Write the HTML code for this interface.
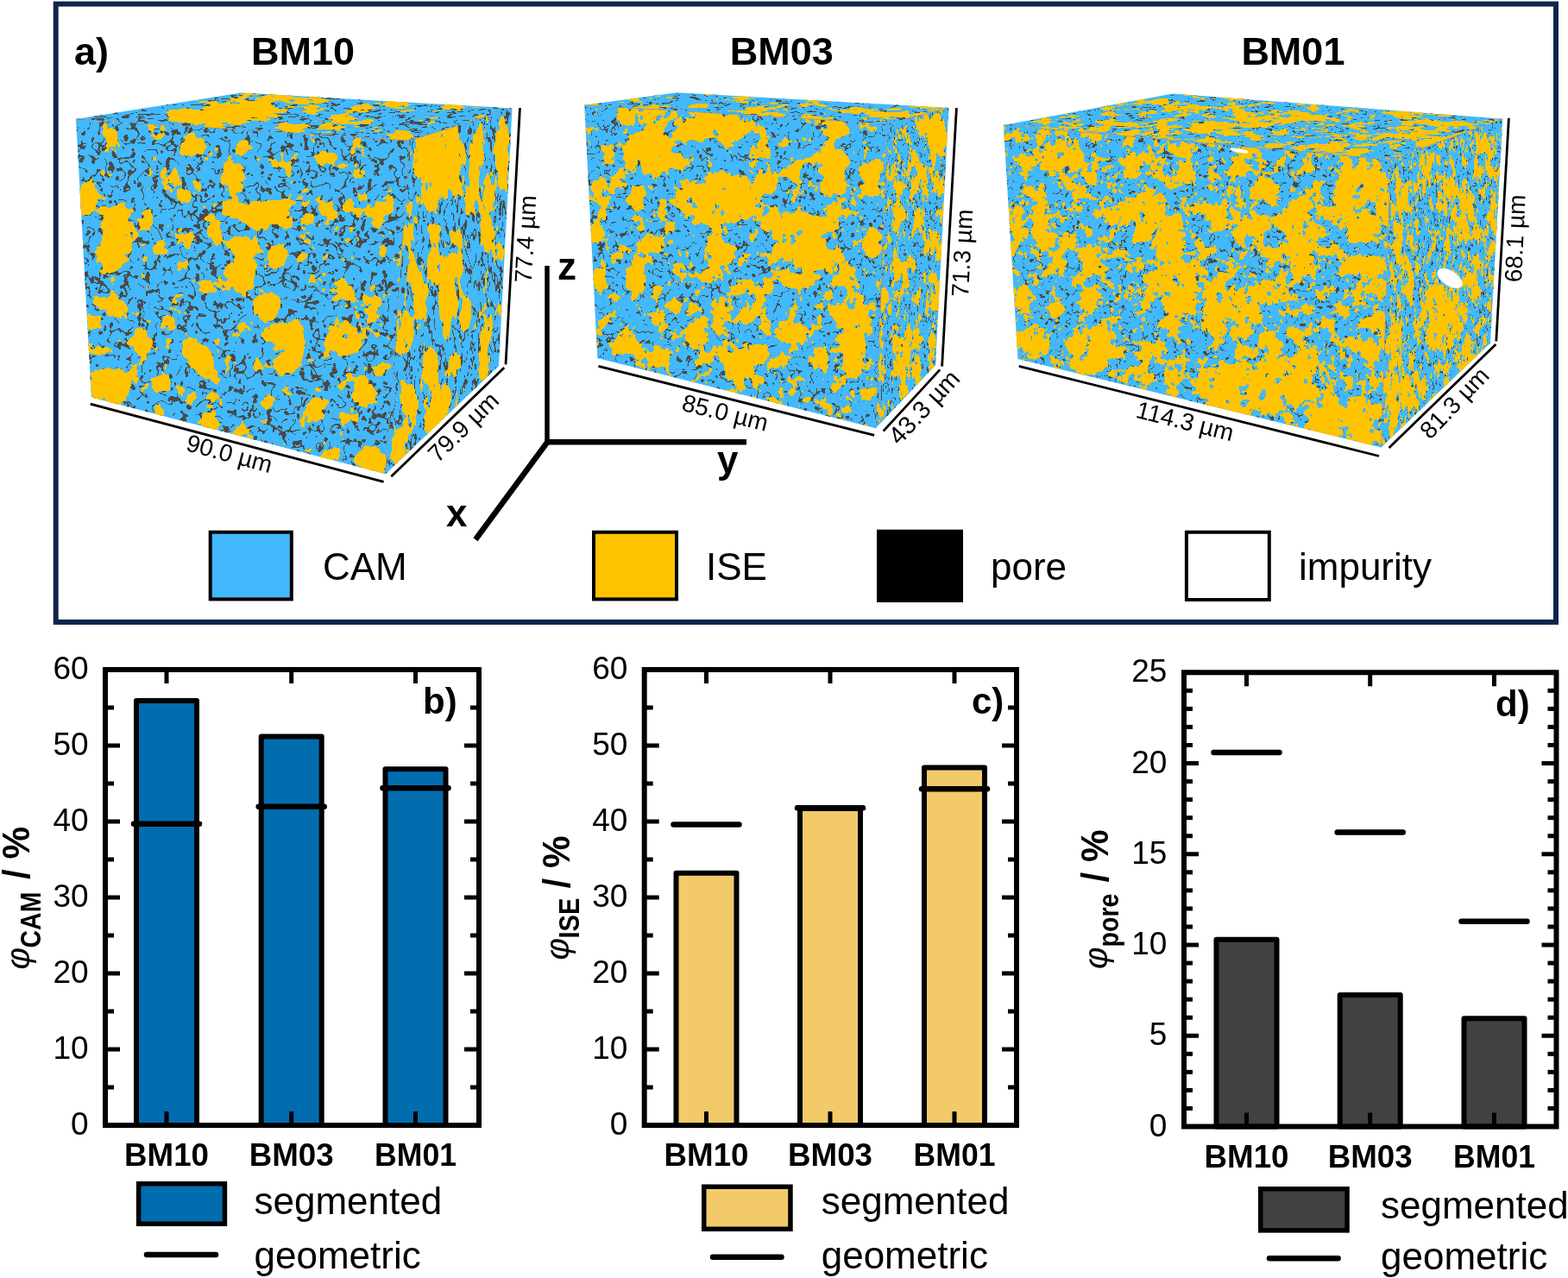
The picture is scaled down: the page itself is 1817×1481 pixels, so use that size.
<!DOCTYPE html><html><head><meta charset="utf-8"><style>html,body{margin:0;padding:0;background:#fff;}svg{display:block;}text{font-family:'Liberation Sans', sans-serif;fill:#000;}</style></head><body>
<svg width="1817" height="1481" viewBox="0 0 1817 1481">
<defs><clipPath id="cBM10front"><polygon points="88.0,138.0 475.0,163.0 446.8,549.2 106.0,460.5"/></clipPath><filter id="oBM10front" filterUnits="userSpaceOnUse" x="84" y="134" width="395" height="419" color-interpolation-filters="sRGB"><feTurbulence type="fractalNoise" baseFrequency="0.0350 0.0350" numOctaves="3" seed="5" result="n0"/><feColorMatrix in="n0" type="matrix" values="1 0 0 0 0 0 0 0 0 0 0 0 0 0 0 0 0 0 0 1" result="n"/><feTurbulence type="fractalNoise" baseFrequency="0.1120 0.1120" numOctaves="2" seed="105" result="m0"/><feColorMatrix in="m0" type="matrix" values="1 0 0 0 0 0 0 0 0 0 0 0 0 0 0 0 0 0 0 1" result="m"/><feGaussianBlur in="SourceGraphic" stdDeviation="3" result="b0"/><feComponentTransfer in="b0" result="b"><feFuncA type="linear" slope="0" intercept="1"/></feComponentTransfer><feComposite in="n" in2="b" operator="arithmetic" k1="0" k2="1.6" k3="1" k4="-0.8" result="s1"/><feComposite in="m" in2="s1" operator="arithmetic" k1="0" k2="1.3" k3="1" k4="-0.65" result="s"/><feColorMatrix in="s" type="matrix" values="0 0 0 0 1 0 0 0 0 0.765 0 0 0 0 0 1 0 0 0 0"/><feComponentTransfer><feFuncA type="discrete" tableValues="0 1"/></feComponentTransfer></filter><filter id="gBM10front" filterUnits="userSpaceOnUse" x="84" y="134" width="395" height="419" color-interpolation-filters="sRGB"><feTurbulence type="fractalNoise" baseFrequency="0.0600 0.0600" numOctaves="2" seed="55"/><feColorMatrix type="matrix" values="0 0 0 0 0.29 0 0 0 0 0.29 0 0 0 0 0.29 1 0 0 0 0"/><feComponentTransfer result="g1"><feFuncA type="discrete" tableValues="0 0 0 0 0 0 0 0 0 0 0 0 0 0 0 0 0 0 0 0 0 0 0 0 0 0 0 0 0 0 0 0 0 0 0 0 0 0 0 0 0 0 0 0 0 0 0 0 0 0 0 0 0 0 0 0 0 0 0 0 0 0 0 0 0 0 0 0 0 0 0 0 0 0 0 0 0 0 0 0 0 0 0 0 0 0 0 0 0 0 0 0 0 0 0 1 1 1 1 1 1 1 1 1 1 0 0 0 0 0 0 0 0 0 0 0 0 0 0 0 0 0 0 0 0 0 0 0 0 0 0 0 0 0 0 0 0 0 0 0 0 0 0 0 0 0 0 0 0 0 0 0 0 0 0 0 0 0 0 0 0 0 0 0 0 0 0 0 0 0 0 0 0 0 0 0 0 0 0 0 0 0 0 0 0 0 0 0 0 0 0 0 0 0 0 0 0 0 0 0"/></feComponentTransfer><feTurbulence type="fractalNoise" baseFrequency="0.0780 0.0780" numOctaves="2" seed="65"/><feColorMatrix type="matrix" values="0 0 0 0 0 0 0 0 0 0 0 0 0 0 0 1 0 0 0 0"/><feComponentTransfer result="mk"><feFuncA type="discrete" tableValues="0 0 0 0 0 0 0 0 0 0 0 0 0 0 0 0 0 0 0 0 0 0 0 0 0 0 0 0 0 0 0 0 0 0 0 0 0 0 0 0 0 0 0 0 0 0 0 0 0 0 0 0 0 0 0 0 0 0 0 0 0 0 0 0 0 0 0 0 0 0 0 0 0 0 0 0 0 0 0 0 0 0 0 0 0 0 0 0 0 0 1 1 1 1 1 1 1 1 1 1 1 1 1 1 1 1 1 1 1 1 1 1 1 1 1 1 1 1 1 1 1 1 1 1 1 1 1 1 1 1 1 1 1 1 1 1 1 1 1 1 1 1 1 1 1 1 1 1 1 1 1 1 1 1 1 1 1 1 1 1 1 1 1 1 1 1 1 1 1 1 1 1 1 1 1 1 1 1 1 1 1 1 1 1 1 1 1 1 1 1 1 1 1 1 1 1 1 1 1 1"/></feComponentTransfer><feComposite in="g1" in2="mk" operator="in" result="g1m"/><feTurbulence type="fractalNoise" baseFrequency="0.1200 0.1200" numOctaves="2" seed="75"/><feColorMatrix type="matrix" values="0 0 0 0 0.29 0 0 0 0 0.29 0 0 0 0 0.29 1 0 0 0 0"/><feComponentTransfer result="g2"><feFuncA type="discrete" tableValues="1 1 1 1 1 1 1 1 1 1 1 1 1 1 1 1 1 1 1 1 1 1 1 1 1 1 1 1 1 1 1 1 1 1 1 1 1 1 1 1 1 1 1 1 1 1 1 1 1 1 1 1 1 1 1 1 1 1 1 1 1 1 1 1 1 1 0 0 0 0 0 0 0 0 0 0 0 0 0 0 0 0 0 0 0 0 0 0 0 0 0 0 0 0 0 0 0 0 0 0 0 0 0 0 0 0 0 0 0 0 0 0 0 0 0 0 0 0 0 0 0 0 0 0 0 0 0 0 0 0 0 0 0 0 0 0 0 0 0 0 0 0 0 0 0 0 0 0 0 0 0 0 0 0 0 0 0 0 0 0 0 0 0 0 0 0 0 0 0 0 0 0 0 0 0 0 0 0 0 0 0 0 0 0 0 0 0 0 0 0 0 0 0 0 0 0 0 0 0 0"/></feComponentTransfer><feMerge><feMergeNode in="g1m"/><feMergeNode in="g2"/></feMerge></filter><clipPath id="cBM10top"><polygon points="88.0,138.0 279.7,107.4 593.5,125.5 475.0,163.0"/></clipPath><filter id="oBM10top" filterUnits="userSpaceOnUse" x="84" y="103" width="514" height="64" color-interpolation-filters="sRGB"><feTurbulence type="fractalNoise" baseFrequency="0.0210 0.0910" numOctaves="3" seed="6" result="n0"/><feColorMatrix in="n0" type="matrix" values="1 0 0 0 0 0 0 0 0 0 0 0 0 0 0 0 0 0 0 1" result="n"/><feTurbulence type="fractalNoise" baseFrequency="0.0672 0.2912" numOctaves="2" seed="106" result="m0"/><feColorMatrix in="m0" type="matrix" values="1 0 0 0 0 0 0 0 0 0 0 0 0 0 0 0 0 0 0 1" result="m"/><feGaussianBlur in="SourceGraphic" stdDeviation="3" result="b0"/><feComponentTransfer in="b0" result="b"><feFuncA type="linear" slope="0" intercept="1"/></feComponentTransfer><feComposite in="n" in2="b" operator="arithmetic" k1="0" k2="1.6" k3="1" k4="-0.8" result="s1"/><feComposite in="m" in2="s1" operator="arithmetic" k1="0" k2="1.3" k3="1" k4="-0.65" result="s"/><feColorMatrix in="s" type="matrix" values="0 0 0 0 1 0 0 0 0 0.765 0 0 0 0 0 1 0 0 0 0"/><feComponentTransfer><feFuncA type="discrete" tableValues="0 1"/></feComponentTransfer></filter><filter id="gBM10top" filterUnits="userSpaceOnUse" x="84" y="103" width="514" height="64" color-interpolation-filters="sRGB"><feTurbulence type="fractalNoise" baseFrequency="0.0360 0.1560" numOctaves="2" seed="56"/><feColorMatrix type="matrix" values="0 0 0 0 0.29 0 0 0 0 0.29 0 0 0 0 0.29 1 0 0 0 0"/><feComponentTransfer result="g1"><feFuncA type="discrete" tableValues="0 0 0 0 0 0 0 0 0 0 0 0 0 0 0 0 0 0 0 0 0 0 0 0 0 0 0 0 0 0 0 0 0 0 0 0 0 0 0 0 0 0 0 0 0 0 0 0 0 0 0 0 0 0 0 0 0 0 0 0 0 0 0 0 0 0 0 0 0 0 0 0 0 0 0 0 0 0 0 0 0 0 0 0 0 0 0 0 0 0 0 0 0 0 0 1 1 1 1 1 1 1 1 1 1 0 0 0 0 0 0 0 0 0 0 0 0 0 0 0 0 0 0 0 0 0 0 0 0 0 0 0 0 0 0 0 0 0 0 0 0 0 0 0 0 0 0 0 0 0 0 0 0 0 0 0 0 0 0 0 0 0 0 0 0 0 0 0 0 0 0 0 0 0 0 0 0 0 0 0 0 0 0 0 0 0 0 0 0 0 0 0 0 0 0 0 0 0 0 0"/></feComponentTransfer><feTurbulence type="fractalNoise" baseFrequency="0.0468 0.2028" numOctaves="2" seed="66"/><feColorMatrix type="matrix" values="0 0 0 0 0 0 0 0 0 0 0 0 0 0 0 1 0 0 0 0"/><feComponentTransfer result="mk"><feFuncA type="discrete" tableValues="0 0 0 0 0 0 0 0 0 0 0 0 0 0 0 0 0 0 0 0 0 0 0 0 0 0 0 0 0 0 0 0 0 0 0 0 0 0 0 0 0 0 0 0 0 0 0 0 0 0 0 0 0 0 0 0 0 0 0 0 0 0 0 0 0 0 0 0 0 0 0 0 0 0 0 0 0 0 0 0 0 0 0 0 0 0 0 0 0 0 1 1 1 1 1 1 1 1 1 1 1 1 1 1 1 1 1 1 1 1 1 1 1 1 1 1 1 1 1 1 1 1 1 1 1 1 1 1 1 1 1 1 1 1 1 1 1 1 1 1 1 1 1 1 1 1 1 1 1 1 1 1 1 1 1 1 1 1 1 1 1 1 1 1 1 1 1 1 1 1 1 1 1 1 1 1 1 1 1 1 1 1 1 1 1 1 1 1 1 1 1 1 1 1 1 1 1 1 1 1"/></feComponentTransfer><feComposite in="g1" in2="mk" operator="in" result="g1m"/><feTurbulence type="fractalNoise" baseFrequency="0.0720 0.3120" numOctaves="2" seed="76"/><feColorMatrix type="matrix" values="0 0 0 0 0.29 0 0 0 0 0.29 0 0 0 0 0.29 1 0 0 0 0"/><feComponentTransfer result="g2"><feFuncA type="discrete" tableValues="1 1 1 1 1 1 1 1 1 1 1 1 1 1 1 1 1 1 1 1 1 1 1 1 1 1 1 1 1 1 1 1 1 1 1 1 1 1 1 1 1 1 1 1 1 1 1 1 1 1 1 1 1 1 1 1 1 1 1 1 1 1 1 1 1 1 0 0 0 0 0 0 0 0 0 0 0 0 0 0 0 0 0 0 0 0 0 0 0 0 0 0 0 0 0 0 0 0 0 0 0 0 0 0 0 0 0 0 0 0 0 0 0 0 0 0 0 0 0 0 0 0 0 0 0 0 0 0 0 0 0 0 0 0 0 0 0 0 0 0 0 0 0 0 0 0 0 0 0 0 0 0 0 0 0 0 0 0 0 0 0 0 0 0 0 0 0 0 0 0 0 0 0 0 0 0 0 0 0 0 0 0 0 0 0 0 0 0 0 0 0 0 0 0 0 0 0 0 0 0"/></feComponentTransfer><feMerge><feMergeNode in="g1m"/><feMergeNode in="g2"/></feMerge></filter><clipPath id="cBM10right"><polygon points="475.0,163.0 593.5,125.5 578.0,424.0 446.8,549.2"/></clipPath><filter id="oBM10right" filterUnits="userSpaceOnUse" x="443" y="122" width="155" height="432" color-interpolation-filters="sRGB"><feTurbulence type="fractalNoise" baseFrequency="0.0700 0.0228" numOctaves="3" seed="7" result="n0"/><feColorMatrix in="n0" type="matrix" values="1 0 0 0 0 0 0 0 0 0 0 0 0 0 0 0 0 0 0 1" result="n"/><feTurbulence type="fractalNoise" baseFrequency="0.2240 0.0728" numOctaves="2" seed="107" result="m0"/><feColorMatrix in="m0" type="matrix" values="1 0 0 0 0 0 0 0 0 0 0 0 0 0 0 0 0 0 0 1" result="m"/><feGaussianBlur in="SourceGraphic" stdDeviation="3" result="b0"/><feComponentTransfer in="b0" result="b"><feFuncA type="linear" slope="0" intercept="1"/></feComponentTransfer><feComposite in="n" in2="b" operator="arithmetic" k1="0" k2="1.6" k3="1" k4="-0.8" result="s1"/><feComposite in="m" in2="s1" operator="arithmetic" k1="0" k2="1.3" k3="1" k4="-0.65" result="s"/><feColorMatrix in="s" type="matrix" values="0 0 0 0 1 0 0 0 0 0.765 0 0 0 0 0 1 0 0 0 0"/><feComponentTransfer><feFuncA type="discrete" tableValues="0 1"/></feComponentTransfer></filter><filter id="gBM10right" filterUnits="userSpaceOnUse" x="443" y="122" width="155" height="432" color-interpolation-filters="sRGB"><feTurbulence type="fractalNoise" baseFrequency="0.1200 0.0390" numOctaves="2" seed="57"/><feColorMatrix type="matrix" values="0 0 0 0 0.29 0 0 0 0 0.29 0 0 0 0 0.29 1 0 0 0 0"/><feComponentTransfer result="g1"><feFuncA type="discrete" tableValues="0 0 0 0 0 0 0 0 0 0 0 0 0 0 0 0 0 0 0 0 0 0 0 0 0 0 0 0 0 0 0 0 0 0 0 0 0 0 0 0 0 0 0 0 0 0 0 0 0 0 0 0 0 0 0 0 0 0 0 0 0 0 0 0 0 0 0 0 0 0 0 0 0 0 0 0 0 0 0 0 0 0 0 0 0 0 0 0 0 0 0 0 0 0 0 1 1 1 1 1 1 1 1 1 1 0 0 0 0 0 0 0 0 0 0 0 0 0 0 0 0 0 0 0 0 0 0 0 0 0 0 0 0 0 0 0 0 0 0 0 0 0 0 0 0 0 0 0 0 0 0 0 0 0 0 0 0 0 0 0 0 0 0 0 0 0 0 0 0 0 0 0 0 0 0 0 0 0 0 0 0 0 0 0 0 0 0 0 0 0 0 0 0 0 0 0 0 0 0 0"/></feComponentTransfer><feTurbulence type="fractalNoise" baseFrequency="0.1560 0.0507" numOctaves="2" seed="67"/><feColorMatrix type="matrix" values="0 0 0 0 0 0 0 0 0 0 0 0 0 0 0 1 0 0 0 0"/><feComponentTransfer result="mk"><feFuncA type="discrete" tableValues="0 0 0 0 0 0 0 0 0 0 0 0 0 0 0 0 0 0 0 0 0 0 0 0 0 0 0 0 0 0 0 0 0 0 0 0 0 0 0 0 0 0 0 0 0 0 0 0 0 0 0 0 0 0 0 0 0 0 0 0 0 0 0 0 0 0 0 0 0 0 0 0 0 0 0 0 0 0 0 0 0 0 0 0 0 0 0 0 0 0 1 1 1 1 1 1 1 1 1 1 1 1 1 1 1 1 1 1 1 1 1 1 1 1 1 1 1 1 1 1 1 1 1 1 1 1 1 1 1 1 1 1 1 1 1 1 1 1 1 1 1 1 1 1 1 1 1 1 1 1 1 1 1 1 1 1 1 1 1 1 1 1 1 1 1 1 1 1 1 1 1 1 1 1 1 1 1 1 1 1 1 1 1 1 1 1 1 1 1 1 1 1 1 1 1 1 1 1 1 1"/></feComponentTransfer><feComposite in="g1" in2="mk" operator="in" result="g1m"/><feTurbulence type="fractalNoise" baseFrequency="0.2400 0.0780" numOctaves="2" seed="77"/><feColorMatrix type="matrix" values="0 0 0 0 0.29 0 0 0 0 0.29 0 0 0 0 0.29 1 0 0 0 0"/><feComponentTransfer result="g2"><feFuncA type="discrete" tableValues="1 1 1 1 1 1 1 1 1 1 1 1 1 1 1 1 1 1 1 1 1 1 1 1 1 1 1 1 1 1 1 1 1 1 1 1 1 1 1 1 1 1 1 1 1 1 1 1 1 1 1 1 1 1 1 1 1 1 1 1 1 1 1 1 1 1 0 0 0 0 0 0 0 0 0 0 0 0 0 0 0 0 0 0 0 0 0 0 0 0 0 0 0 0 0 0 0 0 0 0 0 0 0 0 0 0 0 0 0 0 0 0 0 0 0 0 0 0 0 0 0 0 0 0 0 0 0 0 0 0 0 0 0 0 0 0 0 0 0 0 0 0 0 0 0 0 0 0 0 0 0 0 0 0 0 0 0 0 0 0 0 0 0 0 0 0 0 0 0 0 0 0 0 0 0 0 0 0 0 0 0 0 0 0 0 0 0 0 0 0 0 0 0 0 0 0 0 0 0 0"/></feComponentTransfer><feMerge><feMergeNode in="g1m"/><feMergeNode in="g2"/></feMerge></filter><clipPath id="cBM03front"><polygon points="677.2,121.7 1028.5,143.5 1014.8,496.3 692.3,415.0"/></clipPath><filter id="oBM03front" filterUnits="userSpaceOnUse" x="673" y="118" width="359" height="383" color-interpolation-filters="sRGB"><feTurbulence type="fractalNoise" baseFrequency="0.0450 0.0450" numOctaves="3" seed="9" result="n0"/><feColorMatrix in="n0" type="matrix" values="1 0 0 0 0 0 0 0 0 0 0 0 0 0 0 0 0 0 0 1" result="n"/><feTurbulence type="fractalNoise" baseFrequency="0.1440 0.1440" numOctaves="2" seed="109" result="m0"/><feColorMatrix in="m0" type="matrix" values="1 0 0 0 0 0 0 0 0 0 0 0 0 0 0 0 0 0 0 1" result="m"/><feGaussianBlur in="SourceGraphic" stdDeviation="4" result="b0"/><feComponentTransfer in="b0" result="b"><feFuncA type="linear" slope="0" intercept="1"/></feComponentTransfer><feComposite in="n" in2="b" operator="arithmetic" k1="0" k2="1.6" k3="1" k4="-0.8" result="s1"/><feComposite in="m" in2="s1" operator="arithmetic" k1="0" k2="0.9" k3="1" k4="-0.45" result="s"/><feColorMatrix in="s" type="matrix" values="0 0 0 0 1 0 0 0 0 0.765 0 0 0 0 0 1 0 0 0 0"/><feComponentTransfer><feFuncA type="discrete" tableValues="0 1"/></feComponentTransfer></filter><filter id="gBM03front" filterUnits="userSpaceOnUse" x="673" y="118" width="359" height="383" color-interpolation-filters="sRGB"><feTurbulence type="fractalNoise" baseFrequency="0.0700 0.0700" numOctaves="2" seed="59"/><feColorMatrix type="matrix" values="0 0 0 0 0.29 0 0 0 0 0.29 0 0 0 0 0.29 1 0 0 0 0"/><feComponentTransfer result="g1"><feFuncA type="discrete" tableValues="0 0 0 0 0 0 0 0 0 0 0 0 0 0 0 0 0 0 0 0 0 0 0 0 0 0 0 0 0 0 0 0 0 0 0 0 0 0 0 0 0 0 0 0 0 0 0 0 0 0 0 0 0 0 0 0 0 0 0 0 0 0 0 0 0 0 0 0 0 0 0 0 0 0 0 0 0 0 0 0 0 0 0 0 0 0 0 0 0 0 0 0 0 0 0 0 1 1 1 1 1 1 1 1 0 0 0 0 0 0 0 0 0 0 0 0 0 0 0 0 0 0 0 0 0 0 0 0 0 0 0 0 0 0 0 0 0 0 0 0 0 0 0 0 0 0 0 0 0 0 0 0 0 0 0 0 0 0 0 0 0 0 0 0 0 0 0 0 0 0 0 0 0 0 0 0 0 0 0 0 0 0 0 0 0 0 0 0 0 0 0 0 0 0 0 0 0 0 0 0"/></feComponentTransfer><feTurbulence type="fractalNoise" baseFrequency="0.0910 0.0910" numOctaves="2" seed="69"/><feColorMatrix type="matrix" values="0 0 0 0 0 0 0 0 0 0 0 0 0 0 0 1 0 0 0 0"/><feComponentTransfer result="mk"><feFuncA type="discrete" tableValues="0 0 0 0 0 0 0 0 0 0 0 0 0 0 0 0 0 0 0 0 0 0 0 0 0 0 0 0 0 0 0 0 0 0 0 0 0 0 0 0 0 0 0 0 0 0 0 0 0 0 0 0 0 0 0 0 0 0 0 0 0 0 0 0 0 0 0 0 0 0 0 0 0 0 0 0 0 0 0 0 0 0 0 0 0 0 0 0 0 0 0 0 0 0 0 0 0 0 0 0 1 1 1 1 1 1 1 1 1 1 1 1 1 1 1 1 1 1 1 1 1 1 1 1 1 1 1 1 1 1 1 1 1 1 1 1 1 1 1 1 1 1 1 1 1 1 1 1 1 1 1 1 1 1 1 1 1 1 1 1 1 1 1 1 1 1 1 1 1 1 1 1 1 1 1 1 1 1 1 1 1 1 1 1 1 1 1 1 1 1 1 1 1 1 1 1 1 1 1 1"/></feComponentTransfer><feComposite in="g1" in2="mk" operator="in" result="g1m"/><feTurbulence type="fractalNoise" baseFrequency="0.1400 0.1400" numOctaves="2" seed="79"/><feColorMatrix type="matrix" values="0 0 0 0 0.29 0 0 0 0 0.29 0 0 0 0 0.29 1 0 0 0 0"/><feComponentTransfer result="g2"><feFuncA type="discrete" tableValues="1 1 1 1 1 1 1 1 1 1 1 1 1 1 1 1 1 1 1 1 1 1 1 1 1 1 1 1 1 1 1 1 1 1 1 1 1 1 1 1 1 1 1 1 1 1 1 1 1 1 1 1 1 1 1 1 1 1 1 1 0 0 0 0 0 0 0 0 0 0 0 0 0 0 0 0 0 0 0 0 0 0 0 0 0 0 0 0 0 0 0 0 0 0 0 0 0 0 0 0 0 0 0 0 0 0 0 0 0 0 0 0 0 0 0 0 0 0 0 0 0 0 0 0 0 0 0 0 0 0 0 0 0 0 0 0 0 0 0 0 0 0 0 0 0 0 0 0 0 0 0 0 0 0 0 0 0 0 0 0 0 0 0 0 0 0 0 0 0 0 0 0 0 0 0 0 0 0 0 0 0 0 0 0 0 0 0 0 0 0 0 0 0 0 0 0 0 0 0 0"/></feComponentTransfer><feMerge><feMergeNode in="g1m"/><feMergeNode in="g2"/></feMerge></filter><clipPath id="cBM03top"><polygon points="677.2,121.7 784.8,107.2 1099.4,125.0 1028.5,143.5"/></clipPath><filter id="oBM03top" filterUnits="userSpaceOnUse" x="673" y="103" width="430" height="44" color-interpolation-filters="sRGB"><feTurbulence type="fractalNoise" baseFrequency="0.0270 0.1170" numOctaves="3" seed="10" result="n0"/><feColorMatrix in="n0" type="matrix" values="1 0 0 0 0 0 0 0 0 0 0 0 0 0 0 0 0 0 0 1" result="n"/><feTurbulence type="fractalNoise" baseFrequency="0.0864 0.3744" numOctaves="2" seed="110" result="m0"/><feColorMatrix in="m0" type="matrix" values="1 0 0 0 0 0 0 0 0 0 0 0 0 0 0 0 0 0 0 1" result="m"/><feGaussianBlur in="SourceGraphic" stdDeviation="4" result="b0"/><feComponentTransfer in="b0" result="b"><feFuncA type="linear" slope="0" intercept="1"/></feComponentTransfer><feComposite in="n" in2="b" operator="arithmetic" k1="0" k2="1.6" k3="1" k4="-0.8" result="s1"/><feComposite in="m" in2="s1" operator="arithmetic" k1="0" k2="0.9" k3="1" k4="-0.45" result="s"/><feColorMatrix in="s" type="matrix" values="0 0 0 0 1 0 0 0 0 0.765 0 0 0 0 0 1 0 0 0 0"/><feComponentTransfer><feFuncA type="discrete" tableValues="0 1"/></feComponentTransfer></filter><filter id="gBM03top" filterUnits="userSpaceOnUse" x="673" y="103" width="430" height="44" color-interpolation-filters="sRGB"><feTurbulence type="fractalNoise" baseFrequency="0.0420 0.1820" numOctaves="2" seed="60"/><feColorMatrix type="matrix" values="0 0 0 0 0.29 0 0 0 0 0.29 0 0 0 0 0.29 1 0 0 0 0"/><feComponentTransfer result="g1"><feFuncA type="discrete" tableValues="0 0 0 0 0 0 0 0 0 0 0 0 0 0 0 0 0 0 0 0 0 0 0 0 0 0 0 0 0 0 0 0 0 0 0 0 0 0 0 0 0 0 0 0 0 0 0 0 0 0 0 0 0 0 0 0 0 0 0 0 0 0 0 0 0 0 0 0 0 0 0 0 0 0 0 0 0 0 0 0 0 0 0 0 0 0 0 0 0 0 0 0 0 0 0 0 1 1 1 1 1 1 1 1 0 0 0 0 0 0 0 0 0 0 0 0 0 0 0 0 0 0 0 0 0 0 0 0 0 0 0 0 0 0 0 0 0 0 0 0 0 0 0 0 0 0 0 0 0 0 0 0 0 0 0 0 0 0 0 0 0 0 0 0 0 0 0 0 0 0 0 0 0 0 0 0 0 0 0 0 0 0 0 0 0 0 0 0 0 0 0 0 0 0 0 0 0 0 0 0"/></feComponentTransfer><feTurbulence type="fractalNoise" baseFrequency="0.0546 0.2366" numOctaves="2" seed="70"/><feColorMatrix type="matrix" values="0 0 0 0 0 0 0 0 0 0 0 0 0 0 0 1 0 0 0 0"/><feComponentTransfer result="mk"><feFuncA type="discrete" tableValues="0 0 0 0 0 0 0 0 0 0 0 0 0 0 0 0 0 0 0 0 0 0 0 0 0 0 0 0 0 0 0 0 0 0 0 0 0 0 0 0 0 0 0 0 0 0 0 0 0 0 0 0 0 0 0 0 0 0 0 0 0 0 0 0 0 0 0 0 0 0 0 0 0 0 0 0 0 0 0 0 0 0 0 0 0 0 0 0 0 0 0 0 0 0 0 0 0 0 0 0 1 1 1 1 1 1 1 1 1 1 1 1 1 1 1 1 1 1 1 1 1 1 1 1 1 1 1 1 1 1 1 1 1 1 1 1 1 1 1 1 1 1 1 1 1 1 1 1 1 1 1 1 1 1 1 1 1 1 1 1 1 1 1 1 1 1 1 1 1 1 1 1 1 1 1 1 1 1 1 1 1 1 1 1 1 1 1 1 1 1 1 1 1 1 1 1 1 1 1 1"/></feComponentTransfer><feComposite in="g1" in2="mk" operator="in" result="g1m"/><feTurbulence type="fractalNoise" baseFrequency="0.0840 0.3640" numOctaves="2" seed="80"/><feColorMatrix type="matrix" values="0 0 0 0 0.29 0 0 0 0 0.29 0 0 0 0 0.29 1 0 0 0 0"/><feComponentTransfer result="g2"><feFuncA type="discrete" tableValues="1 1 1 1 1 1 1 1 1 1 1 1 1 1 1 1 1 1 1 1 1 1 1 1 1 1 1 1 1 1 1 1 1 1 1 1 1 1 1 1 1 1 1 1 1 1 1 1 1 1 1 1 1 1 1 1 1 1 1 1 0 0 0 0 0 0 0 0 0 0 0 0 0 0 0 0 0 0 0 0 0 0 0 0 0 0 0 0 0 0 0 0 0 0 0 0 0 0 0 0 0 0 0 0 0 0 0 0 0 0 0 0 0 0 0 0 0 0 0 0 0 0 0 0 0 0 0 0 0 0 0 0 0 0 0 0 0 0 0 0 0 0 0 0 0 0 0 0 0 0 0 0 0 0 0 0 0 0 0 0 0 0 0 0 0 0 0 0 0 0 0 0 0 0 0 0 0 0 0 0 0 0 0 0 0 0 0 0 0 0 0 0 0 0 0 0 0 0 0 0"/></feComponentTransfer><feMerge><feMergeNode in="g1m"/><feMergeNode in="g2"/></feMerge></filter><clipPath id="cBM03right"><polygon points="1028.5,143.5 1099.4,125.0 1084.0,423.5 1014.8,496.3"/></clipPath><filter id="oBM03right" filterUnits="userSpaceOnUse" x="1011" y="121" width="93" height="379" color-interpolation-filters="sRGB"><feTurbulence type="fractalNoise" baseFrequency="0.1170 0.0473" numOctaves="3" seed="11" result="n0"/><feColorMatrix in="n0" type="matrix" values="1 0 0 0 0 0 0 0 0 0 0 0 0 0 0 0 0 0 0 1" result="n"/><feTurbulence type="fractalNoise" baseFrequency="0.3744 0.1512" numOctaves="2" seed="111" result="m0"/><feColorMatrix in="m0" type="matrix" values="1 0 0 0 0 0 0 0 0 0 0 0 0 0 0 0 0 0 0 1" result="m"/><feGaussianBlur in="SourceGraphic" stdDeviation="4" result="b0"/><feComponentTransfer in="b0" result="b"><feFuncA type="linear" slope="0" intercept="1"/></feComponentTransfer><feComposite in="n" in2="b" operator="arithmetic" k1="0" k2="1.6" k3="1" k4="-0.8" result="s1"/><feComposite in="m" in2="s1" operator="arithmetic" k1="0" k2="0.9" k3="1" k4="-0.45" result="s"/><feColorMatrix in="s" type="matrix" values="0 0 0 0 1 0 0 0 0 0.765 0 0 0 0 0 1 0 0 0 0"/><feComponentTransfer><feFuncA type="discrete" tableValues="0 1"/></feComponentTransfer></filter><filter id="gBM03right" filterUnits="userSpaceOnUse" x="1011" y="121" width="93" height="379" color-interpolation-filters="sRGB"><feTurbulence type="fractalNoise" baseFrequency="0.1820 0.0735" numOctaves="2" seed="61"/><feColorMatrix type="matrix" values="0 0 0 0 0.29 0 0 0 0 0.29 0 0 0 0 0.29 1 0 0 0 0"/><feComponentTransfer result="g1"><feFuncA type="discrete" tableValues="0 0 0 0 0 0 0 0 0 0 0 0 0 0 0 0 0 0 0 0 0 0 0 0 0 0 0 0 0 0 0 0 0 0 0 0 0 0 0 0 0 0 0 0 0 0 0 0 0 0 0 0 0 0 0 0 0 0 0 0 0 0 0 0 0 0 0 0 0 0 0 0 0 0 0 0 0 0 0 0 0 0 0 0 0 0 0 0 0 0 0 0 0 0 0 0 1 1 1 1 1 1 1 1 0 0 0 0 0 0 0 0 0 0 0 0 0 0 0 0 0 0 0 0 0 0 0 0 0 0 0 0 0 0 0 0 0 0 0 0 0 0 0 0 0 0 0 0 0 0 0 0 0 0 0 0 0 0 0 0 0 0 0 0 0 0 0 0 0 0 0 0 0 0 0 0 0 0 0 0 0 0 0 0 0 0 0 0 0 0 0 0 0 0 0 0 0 0 0 0"/></feComponentTransfer><feTurbulence type="fractalNoise" baseFrequency="0.2366 0.0956" numOctaves="2" seed="71"/><feColorMatrix type="matrix" values="0 0 0 0 0 0 0 0 0 0 0 0 0 0 0 1 0 0 0 0"/><feComponentTransfer result="mk"><feFuncA type="discrete" tableValues="0 0 0 0 0 0 0 0 0 0 0 0 0 0 0 0 0 0 0 0 0 0 0 0 0 0 0 0 0 0 0 0 0 0 0 0 0 0 0 0 0 0 0 0 0 0 0 0 0 0 0 0 0 0 0 0 0 0 0 0 0 0 0 0 0 0 0 0 0 0 0 0 0 0 0 0 0 0 0 0 0 0 0 0 0 0 0 0 0 0 0 0 0 0 0 0 0 0 0 0 1 1 1 1 1 1 1 1 1 1 1 1 1 1 1 1 1 1 1 1 1 1 1 1 1 1 1 1 1 1 1 1 1 1 1 1 1 1 1 1 1 1 1 1 1 1 1 1 1 1 1 1 1 1 1 1 1 1 1 1 1 1 1 1 1 1 1 1 1 1 1 1 1 1 1 1 1 1 1 1 1 1 1 1 1 1 1 1 1 1 1 1 1 1 1 1 1 1 1 1"/></feComponentTransfer><feComposite in="g1" in2="mk" operator="in" result="g1m"/><feTurbulence type="fractalNoise" baseFrequency="0.3640 0.1470" numOctaves="2" seed="81"/><feColorMatrix type="matrix" values="0 0 0 0 0.29 0 0 0 0 0.29 0 0 0 0 0.29 1 0 0 0 0"/><feComponentTransfer result="g2"><feFuncA type="discrete" tableValues="1 1 1 1 1 1 1 1 1 1 1 1 1 1 1 1 1 1 1 1 1 1 1 1 1 1 1 1 1 1 1 1 1 1 1 1 1 1 1 1 1 1 1 1 1 1 1 1 1 1 1 1 1 1 1 1 1 1 1 1 0 0 0 0 0 0 0 0 0 0 0 0 0 0 0 0 0 0 0 0 0 0 0 0 0 0 0 0 0 0 0 0 0 0 0 0 0 0 0 0 0 0 0 0 0 0 0 0 0 0 0 0 0 0 0 0 0 0 0 0 0 0 0 0 0 0 0 0 0 0 0 0 0 0 0 0 0 0 0 0 0 0 0 0 0 0 0 0 0 0 0 0 0 0 0 0 0 0 0 0 0 0 0 0 0 0 0 0 0 0 0 0 0 0 0 0 0 0 0 0 0 0 0 0 0 0 0 0 0 0 0 0 0 0 0 0 0 0 0 0"/></feComponentTransfer><feMerge><feMergeNode in="g1m"/><feMergeNode in="g2"/></feMerge></filter><clipPath id="cBM01front"><polygon points="1162.8,145.0 1611.5,185.0 1600.5,518.5 1179.5,416.0"/></clipPath><filter id="oBM01front" filterUnits="userSpaceOnUse" x="1159" y="141" width="457" height="382" color-interpolation-filters="sRGB"><feTurbulence type="fractalNoise" baseFrequency="0.0600 0.0600" numOctaves="3" seed="13" result="n0"/><feColorMatrix in="n0" type="matrix" values="1 0 0 0 0 0 0 0 0 0 0 0 0 0 0 0 0 0 0 1" result="n"/><feTurbulence type="fractalNoise" baseFrequency="0.1920 0.1920" numOctaves="2" seed="113" result="m0"/><feColorMatrix in="m0" type="matrix" values="1 0 0 0 0 0 0 0 0 0 0 0 0 0 0 0 0 0 0 1" result="m"/><feGaussianBlur in="SourceGraphic" stdDeviation="5" result="b0"/><feComponentTransfer in="b0" result="b"><feFuncA type="linear" slope="0" intercept="1"/></feComponentTransfer><feComposite in="n" in2="b" operator="arithmetic" k1="0" k2="1.6" k3="1" k4="-0.8" result="s1"/><feComposite in="m" in2="s1" operator="arithmetic" k1="0" k2="0.9" k3="1" k4="-0.45" result="s"/><feColorMatrix in="s" type="matrix" values="0 0 0 0 1 0 0 0 0 0.765 0 0 0 0 0 1 0 0 0 0"/><feComponentTransfer><feFuncA type="discrete" tableValues="0 1"/></feComponentTransfer></filter><filter id="gBM01front" filterUnits="userSpaceOnUse" x="1159" y="141" width="457" height="382" color-interpolation-filters="sRGB"><feTurbulence type="fractalNoise" baseFrequency="0.0800 0.0800" numOctaves="2" seed="63"/><feColorMatrix type="matrix" values="0 0 0 0 0.29 0 0 0 0 0.29 0 0 0 0 0.29 1 0 0 0 0"/><feComponentTransfer result="g1"><feFuncA type="discrete" tableValues="0 0 0 0 0 0 0 0 0 0 0 0 0 0 0 0 0 0 0 0 0 0 0 0 0 0 0 0 0 0 0 0 0 0 0 0 0 0 0 0 0 0 0 0 0 0 0 0 0 0 0 0 0 0 0 0 0 0 0 0 0 0 0 0 0 0 0 0 0 0 0 0 0 0 0 0 0 0 0 0 0 0 0 0 0 0 0 0 0 0 0 0 0 0 0 0 0 1 1 1 1 1 1 0 0 0 0 0 0 0 0 0 0 0 0 0 0 0 0 0 0 0 0 0 0 0 0 0 0 0 0 0 0 0 0 0 0 0 0 0 0 0 0 0 0 0 0 0 0 0 0 0 0 0 0 0 0 0 0 0 0 0 0 0 0 0 0 0 0 0 0 0 0 0 0 0 0 0 0 0 0 0 0 0 0 0 0 0 0 0 0 0 0 0 0 0 0 0 0 0"/></feComponentTransfer><feTurbulence type="fractalNoise" baseFrequency="0.1040 0.1040" numOctaves="2" seed="73"/><feColorMatrix type="matrix" values="0 0 0 0 0 0 0 0 0 0 0 0 0 0 0 1 0 0 0 0"/><feComponentTransfer result="mk"><feFuncA type="discrete" tableValues="0 0 0 0 0 0 0 0 0 0 0 0 0 0 0 0 0 0 0 0 0 0 0 0 0 0 0 0 0 0 0 0 0 0 0 0 0 0 0 0 0 0 0 0 0 0 0 0 0 0 0 0 0 0 0 0 0 0 0 0 0 0 0 0 0 0 0 0 0 0 0 0 0 0 0 0 0 0 0 0 0 0 0 0 0 0 0 0 0 0 0 0 0 0 0 0 0 0 0 0 1 1 1 1 1 1 1 1 1 1 1 1 1 1 1 1 1 1 1 1 1 1 1 1 1 1 1 1 1 1 1 1 1 1 1 1 1 1 1 1 1 1 1 1 1 1 1 1 1 1 1 1 1 1 1 1 1 1 1 1 1 1 1 1 1 1 1 1 1 1 1 1 1 1 1 1 1 1 1 1 1 1 1 1 1 1 1 1 1 1 1 1 1 1 1 1 1 1 1 1"/></feComponentTransfer><feComposite in="g1" in2="mk" operator="in" result="g1m"/><feTurbulence type="fractalNoise" baseFrequency="0.1500 0.1500" numOctaves="2" seed="83"/><feColorMatrix type="matrix" values="0 0 0 0 0.29 0 0 0 0 0.29 0 0 0 0 0.29 1 0 0 0 0"/><feComponentTransfer result="g2"><feFuncA type="discrete" tableValues="1 1 1 1 1 1 1 1 1 1 1 1 1 1 1 1 1 1 1 1 1 1 1 1 1 1 1 1 1 1 1 1 1 1 1 1 1 1 1 1 1 1 1 1 1 1 1 1 1 1 1 1 1 1 1 1 1 1 0 0 0 0 0 0 0 0 0 0 0 0 0 0 0 0 0 0 0 0 0 0 0 0 0 0 0 0 0 0 0 0 0 0 0 0 0 0 0 0 0 0 0 0 0 0 0 0 0 0 0 0 0 0 0 0 0 0 0 0 0 0 0 0 0 0 0 0 0 0 0 0 0 0 0 0 0 0 0 0 0 0 0 0 0 0 0 0 0 0 0 0 0 0 0 0 0 0 0 0 0 0 0 0 0 0 0 0 0 0 0 0 0 0 0 0 0 0 0 0 0 0 0 0 0 0 0 0 0 0 0 0 0 0 0 0 0 0 0 0 0 0"/></feComponentTransfer><feMerge><feMergeNode in="g1m"/><feMergeNode in="g2"/></feMerge></filter><clipPath id="cBM01top"><polygon points="1162.8,145.0 1359.0,108.5 1741.3,137.7 1611.5,185.0"/></clipPath><filter id="oBM01top" filterUnits="userSpaceOnUse" x="1159" y="104" width="586" height="84" color-interpolation-filters="sRGB"><feTurbulence type="fractalNoise" baseFrequency="0.0360 0.1560" numOctaves="3" seed="14" result="n0"/><feColorMatrix in="n0" type="matrix" values="1 0 0 0 0 0 0 0 0 0 0 0 0 0 0 0 0 0 0 1" result="n"/><feTurbulence type="fractalNoise" baseFrequency="0.1152 0.4992" numOctaves="2" seed="114" result="m0"/><feColorMatrix in="m0" type="matrix" values="1 0 0 0 0 0 0 0 0 0 0 0 0 0 0 0 0 0 0 1" result="m"/><feGaussianBlur in="SourceGraphic" stdDeviation="5" result="b0"/><feComponentTransfer in="b0" result="b"><feFuncA type="linear" slope="0" intercept="1"/></feComponentTransfer><feComposite in="n" in2="b" operator="arithmetic" k1="0" k2="1.6" k3="1" k4="-0.8" result="s1"/><feComposite in="m" in2="s1" operator="arithmetic" k1="0" k2="0.9" k3="1" k4="-0.45" result="s"/><feColorMatrix in="s" type="matrix" values="0 0 0 0 1 0 0 0 0 0.765 0 0 0 0 0 1 0 0 0 0"/><feComponentTransfer><feFuncA type="discrete" tableValues="0 1"/></feComponentTransfer></filter><filter id="gBM01top" filterUnits="userSpaceOnUse" x="1159" y="104" width="586" height="84" color-interpolation-filters="sRGB"><feTurbulence type="fractalNoise" baseFrequency="0.0480 0.2080" numOctaves="2" seed="64"/><feColorMatrix type="matrix" values="0 0 0 0 0.29 0 0 0 0 0.29 0 0 0 0 0.29 1 0 0 0 0"/><feComponentTransfer result="g1"><feFuncA type="discrete" tableValues="0 0 0 0 0 0 0 0 0 0 0 0 0 0 0 0 0 0 0 0 0 0 0 0 0 0 0 0 0 0 0 0 0 0 0 0 0 0 0 0 0 0 0 0 0 0 0 0 0 0 0 0 0 0 0 0 0 0 0 0 0 0 0 0 0 0 0 0 0 0 0 0 0 0 0 0 0 0 0 0 0 0 0 0 0 0 0 0 0 0 0 0 0 0 0 0 0 1 1 1 1 1 1 0 0 0 0 0 0 0 0 0 0 0 0 0 0 0 0 0 0 0 0 0 0 0 0 0 0 0 0 0 0 0 0 0 0 0 0 0 0 0 0 0 0 0 0 0 0 0 0 0 0 0 0 0 0 0 0 0 0 0 0 0 0 0 0 0 0 0 0 0 0 0 0 0 0 0 0 0 0 0 0 0 0 0 0 0 0 0 0 0 0 0 0 0 0 0 0 0"/></feComponentTransfer><feTurbulence type="fractalNoise" baseFrequency="0.0624 0.2704" numOctaves="2" seed="74"/><feColorMatrix type="matrix" values="0 0 0 0 0 0 0 0 0 0 0 0 0 0 0 1 0 0 0 0"/><feComponentTransfer result="mk"><feFuncA type="discrete" tableValues="0 0 0 0 0 0 0 0 0 0 0 0 0 0 0 0 0 0 0 0 0 0 0 0 0 0 0 0 0 0 0 0 0 0 0 0 0 0 0 0 0 0 0 0 0 0 0 0 0 0 0 0 0 0 0 0 0 0 0 0 0 0 0 0 0 0 0 0 0 0 0 0 0 0 0 0 0 0 0 0 0 0 0 0 0 0 0 0 0 0 0 0 0 0 0 0 0 0 0 0 1 1 1 1 1 1 1 1 1 1 1 1 1 1 1 1 1 1 1 1 1 1 1 1 1 1 1 1 1 1 1 1 1 1 1 1 1 1 1 1 1 1 1 1 1 1 1 1 1 1 1 1 1 1 1 1 1 1 1 1 1 1 1 1 1 1 1 1 1 1 1 1 1 1 1 1 1 1 1 1 1 1 1 1 1 1 1 1 1 1 1 1 1 1 1 1 1 1 1 1"/></feComponentTransfer><feComposite in="g1" in2="mk" operator="in" result="g1m"/><feTurbulence type="fractalNoise" baseFrequency="0.0900 0.3900" numOctaves="2" seed="84"/><feColorMatrix type="matrix" values="0 0 0 0 0.29 0 0 0 0 0.29 0 0 0 0 0.29 1 0 0 0 0"/><feComponentTransfer result="g2"><feFuncA type="discrete" tableValues="1 1 1 1 1 1 1 1 1 1 1 1 1 1 1 1 1 1 1 1 1 1 1 1 1 1 1 1 1 1 1 1 1 1 1 1 1 1 1 1 1 1 1 1 1 1 1 1 1 1 1 1 1 1 1 1 1 1 0 0 0 0 0 0 0 0 0 0 0 0 0 0 0 0 0 0 0 0 0 0 0 0 0 0 0 0 0 0 0 0 0 0 0 0 0 0 0 0 0 0 0 0 0 0 0 0 0 0 0 0 0 0 0 0 0 0 0 0 0 0 0 0 0 0 0 0 0 0 0 0 0 0 0 0 0 0 0 0 0 0 0 0 0 0 0 0 0 0 0 0 0 0 0 0 0 0 0 0 0 0 0 0 0 0 0 0 0 0 0 0 0 0 0 0 0 0 0 0 0 0 0 0 0 0 0 0 0 0 0 0 0 0 0 0 0 0 0 0 0 0"/></feComponentTransfer><feMerge><feMergeNode in="g1m"/><feMergeNode in="g2"/></feMerge></filter><clipPath id="cBM01right"><polygon points="1611.5,185.0 1741.3,137.7 1727.0,397.5 1600.5,518.5"/></clipPath><filter id="oBM01right" filterUnits="userSpaceOnUse" x="1596" y="134" width="149" height="389" color-interpolation-filters="sRGB"><feTurbulence type="fractalNoise" baseFrequency="0.1440 0.0570" numOctaves="3" seed="15" result="n0"/><feColorMatrix in="n0" type="matrix" values="1 0 0 0 0 0 0 0 0 0 0 0 0 0 0 0 0 0 0 1" result="n"/><feTurbulence type="fractalNoise" baseFrequency="0.4608 0.1824" numOctaves="2" seed="115" result="m0"/><feColorMatrix in="m0" type="matrix" values="1 0 0 0 0 0 0 0 0 0 0 0 0 0 0 0 0 0 0 1" result="m"/><feGaussianBlur in="SourceGraphic" stdDeviation="5" result="b0"/><feComponentTransfer in="b0" result="b"><feFuncA type="linear" slope="0" intercept="1"/></feComponentTransfer><feComposite in="n" in2="b" operator="arithmetic" k1="0" k2="1.6" k3="1" k4="-0.8" result="s1"/><feComposite in="m" in2="s1" operator="arithmetic" k1="0" k2="0.9" k3="1" k4="-0.45" result="s"/><feColorMatrix in="s" type="matrix" values="0 0 0 0 1 0 0 0 0 0.765 0 0 0 0 0 1 0 0 0 0"/><feComponentTransfer><feFuncA type="discrete" tableValues="0 1"/></feComponentTransfer></filter><filter id="gBM01right" filterUnits="userSpaceOnUse" x="1596" y="134" width="149" height="389" color-interpolation-filters="sRGB"><feTurbulence type="fractalNoise" baseFrequency="0.1920 0.0760" numOctaves="2" seed="65"/><feColorMatrix type="matrix" values="0 0 0 0 0.29 0 0 0 0 0.29 0 0 0 0 0.29 1 0 0 0 0"/><feComponentTransfer result="g1"><feFuncA type="discrete" tableValues="0 0 0 0 0 0 0 0 0 0 0 0 0 0 0 0 0 0 0 0 0 0 0 0 0 0 0 0 0 0 0 0 0 0 0 0 0 0 0 0 0 0 0 0 0 0 0 0 0 0 0 0 0 0 0 0 0 0 0 0 0 0 0 0 0 0 0 0 0 0 0 0 0 0 0 0 0 0 0 0 0 0 0 0 0 0 0 0 0 0 0 0 0 0 0 0 0 1 1 1 1 1 1 0 0 0 0 0 0 0 0 0 0 0 0 0 0 0 0 0 0 0 0 0 0 0 0 0 0 0 0 0 0 0 0 0 0 0 0 0 0 0 0 0 0 0 0 0 0 0 0 0 0 0 0 0 0 0 0 0 0 0 0 0 0 0 0 0 0 0 0 0 0 0 0 0 0 0 0 0 0 0 0 0 0 0 0 0 0 0 0 0 0 0 0 0 0 0 0 0"/></feComponentTransfer><feTurbulence type="fractalNoise" baseFrequency="0.2496 0.0988" numOctaves="2" seed="75"/><feColorMatrix type="matrix" values="0 0 0 0 0 0 0 0 0 0 0 0 0 0 0 1 0 0 0 0"/><feComponentTransfer result="mk"><feFuncA type="discrete" tableValues="0 0 0 0 0 0 0 0 0 0 0 0 0 0 0 0 0 0 0 0 0 0 0 0 0 0 0 0 0 0 0 0 0 0 0 0 0 0 0 0 0 0 0 0 0 0 0 0 0 0 0 0 0 0 0 0 0 0 0 0 0 0 0 0 0 0 0 0 0 0 0 0 0 0 0 0 0 0 0 0 0 0 0 0 0 0 0 0 0 0 0 0 0 0 0 0 0 0 0 0 1 1 1 1 1 1 1 1 1 1 1 1 1 1 1 1 1 1 1 1 1 1 1 1 1 1 1 1 1 1 1 1 1 1 1 1 1 1 1 1 1 1 1 1 1 1 1 1 1 1 1 1 1 1 1 1 1 1 1 1 1 1 1 1 1 1 1 1 1 1 1 1 1 1 1 1 1 1 1 1 1 1 1 1 1 1 1 1 1 1 1 1 1 1 1 1 1 1 1 1"/></feComponentTransfer><feComposite in="g1" in2="mk" operator="in" result="g1m"/><feTurbulence type="fractalNoise" baseFrequency="0.3600 0.1425" numOctaves="2" seed="85"/><feColorMatrix type="matrix" values="0 0 0 0 0.29 0 0 0 0 0.29 0 0 0 0 0.29 1 0 0 0 0"/><feComponentTransfer result="g2"><feFuncA type="discrete" tableValues="1 1 1 1 1 1 1 1 1 1 1 1 1 1 1 1 1 1 1 1 1 1 1 1 1 1 1 1 1 1 1 1 1 1 1 1 1 1 1 1 1 1 1 1 1 1 1 1 1 1 1 1 1 1 1 1 1 1 0 0 0 0 0 0 0 0 0 0 0 0 0 0 0 0 0 0 0 0 0 0 0 0 0 0 0 0 0 0 0 0 0 0 0 0 0 0 0 0 0 0 0 0 0 0 0 0 0 0 0 0 0 0 0 0 0 0 0 0 0 0 0 0 0 0 0 0 0 0 0 0 0 0 0 0 0 0 0 0 0 0 0 0 0 0 0 0 0 0 0 0 0 0 0 0 0 0 0 0 0 0 0 0 0 0 0 0 0 0 0 0 0 0 0 0 0 0 0 0 0 0 0 0 0 0 0 0 0 0 0 0 0 0 0 0 0 0 0 0 0 0"/></feComponentTransfer><feMerge><feMergeNode in="g1m"/><feMergeNode in="g2"/></feMerge></filter></defs>
<rect width="1817" height="1481" fill="#fff"/>
<rect x="64.7" y="4.6" width="1738.3" height="716.3" fill="none" stroke="#10244f" stroke-width="6"/>
<text x="86" y="75" font-size="45" text-anchor="start" font-weight="bold" >a)</text>
<text x="351" y="75" font-size="45" text-anchor="middle" font-weight="bold" >BM10</text>
<text x="905.8" y="75" font-size="45" text-anchor="middle" font-weight="bold" >BM03</text>
<text x="1498.4" y="75" font-size="45" text-anchor="middle" font-weight="bold" >BM01</text>
<g clip-path="url(#cBM10front)">
<rect x="84" y="134" width="395" height="419" fill="#42b8fd"/>
<rect x="84" y="134" width="395" height="419" filter="url(#gBM10front)"/>
<g filter="url(#oBM10front)"><rect x="64" y="114" width="435" height="459" fill="rgb(30,0,0)"/>
<ellipse cx="126.6" cy="152.0" rx="11.0" ry="8.5" transform="rotate(0 126.6 152.0)" fill="rgb(255,0,0)"/>
<ellipse cx="223.6" cy="172.0" rx="11.6" ry="14.7" transform="rotate(0 223.6 172.0)" fill="rgb(255,0,0)"/>
<ellipse cx="279.5" cy="170.0" rx="8.5" ry="9.3" transform="rotate(0 279.5 170.0)" fill="rgb(255,0,0)"/>
<ellipse cx="270.0" cy="208.5" rx="16.0" ry="15.5" transform="rotate(0 270.0 208.5)" fill="rgb(255,0,0)"/>
<ellipse cx="203.5" cy="202.5" rx="6.0" ry="12.0" transform="rotate(0 203.5 202.5)" fill="rgb(255,0,0)"/>
<ellipse cx="215.0" cy="227.5" rx="8.0" ry="9.5" transform="rotate(0 215.0 227.5)" fill="rgb(255,0,0)"/>
<ellipse cx="229.0" cy="216.5" rx="6.0" ry="7.5" transform="rotate(0 229.0 216.5)" fill="rgb(255,0,0)"/>
<ellipse cx="104.0" cy="224.0" rx="10.0" ry="21.0" transform="rotate(0 104.0 224.0)" fill="rgb(255,0,0)"/>
<ellipse cx="135.0" cy="275.0" rx="19.0" ry="38.0" transform="rotate(8 135.0 275.0)" fill="rgb(255,0,0)"/>
<ellipse cx="168.4" cy="252.0" rx="7.7" ry="12.0" transform="rotate(0 168.4 252.0)" fill="rgb(255,0,0)"/>
<ellipse cx="248.5" cy="270.0" rx="7.0" ry="13.0" transform="rotate(0 248.5 270.0)" fill="rgb(255,0,0)"/>
<ellipse cx="305.0" cy="250.0" rx="25.0" ry="18.0" transform="rotate(0 305.0 250.0)" fill="rgb(255,0,0)"/>
<ellipse cx="285.0" cy="285.0" rx="18.0" ry="14.0" transform="rotate(0 285.0 285.0)" fill="rgb(255,0,0)"/>
<ellipse cx="270.0" cy="245.0" rx="9.0" ry="10.0" transform="rotate(0 270.0 245.0)" fill="rgb(255,0,0)"/>
<ellipse cx="280.0" cy="313.0" rx="17.0" ry="17.0" transform="rotate(0 280.0 313.0)" fill="rgb(255,0,0)"/>
<ellipse cx="217.5" cy="281.0" rx="7.0" ry="10.0" transform="rotate(0 217.5 281.0)" fill="rgb(255,0,0)"/>
<ellipse cx="184.0" cy="288.0" rx="8.0" ry="8.0" transform="rotate(0 184.0 288.0)" fill="rgb(255,0,0)"/>
<ellipse cx="210.0" cy="308.0" rx="6.0" ry="6.0" transform="rotate(0 210.0 308.0)" fill="rgb(255,0,0)"/>
<ellipse cx="322.0" cy="294.0" rx="12.0" ry="14.0" transform="rotate(0 322.0 294.0)" fill="rgb(255,0,0)"/>
<ellipse cx="379.5" cy="183.0" rx="9.5" ry="10.0" transform="rotate(0 379.5 183.0)" fill="rgb(255,0,0)"/>
<ellipse cx="381.0" cy="243.5" rx="11.0" ry="16.0" transform="rotate(0 381.0 243.5)" fill="rgb(255,0,0)"/>
<ellipse cx="401.0" cy="239.0" rx="6.5" ry="7.0" transform="rotate(0 401.0 239.0)" fill="rgb(255,0,0)"/>
<ellipse cx="437.0" cy="251.0" rx="11.0" ry="10.5" transform="rotate(30 437.0 251.0)" fill="rgb(255,0,0)"/>
<ellipse cx="358.0" cy="252.0" rx="6.0" ry="6.0" transform="rotate(0 358.0 252.0)" fill="rgb(255,0,0)"/>
<ellipse cx="452.0" cy="240.0" rx="6.0" ry="10.0" transform="rotate(0 452.0 240.0)" fill="rgb(255,0,0)"/>
<ellipse cx="443.0" cy="291.0" rx="5.0" ry="5.0" transform="rotate(0 443.0 291.0)" fill="rgb(255,0,0)"/>
<ellipse cx="334.0" cy="245.0" rx="6.0" ry="25.0" transform="rotate(0 334.0 245.0)" fill="rgb(255,0,0)"/>
<ellipse cx="125.0" cy="355.0" rx="20.0" ry="11.0" transform="rotate(15 125.0 355.0)" fill="rgb(255,0,0)"/>
<ellipse cx="110.0" cy="372.0" rx="7.0" ry="9.0" transform="rotate(0 110.0 372.0)" fill="rgb(255,0,0)"/>
<ellipse cx="166.0" cy="398.0" rx="11.0" ry="17.0" transform="rotate(-20 166.0 398.0)" fill="rgb(255,0,0)"/>
<ellipse cx="122.0" cy="407.0" rx="14.0" ry="7.0" transform="rotate(-5 122.0 407.0)" fill="rgb(255,0,0)"/>
<ellipse cx="128.0" cy="448.0" rx="23.0" ry="24.0" transform="rotate(0 128.0 448.0)" fill="rgb(255,0,0)"/>
<ellipse cx="193.0" cy="377.0" rx="9.5" ry="10.5" transform="rotate(0 193.0 377.0)" fill="rgb(255,0,0)"/>
<ellipse cx="194.0" cy="396.0" rx="6.0" ry="6.5" transform="rotate(0 194.0 396.0)" fill="rgb(255,0,0)"/>
<ellipse cx="232.0" cy="418.0" rx="13.0" ry="27.0" transform="rotate(-35 232.0 418.0)" fill="rgb(255,0,0)"/>
<ellipse cx="250.0" cy="440.0" rx="8.0" ry="6.0" transform="rotate(0 250.0 440.0)" fill="rgb(255,0,0)"/>
<ellipse cx="187.0" cy="446.0" rx="9.5" ry="9.5" transform="rotate(0 187.0 446.0)" fill="rgb(255,0,0)"/>
<ellipse cx="221.0" cy="461.0" rx="7.0" ry="7.0" transform="rotate(0 221.0 461.0)" fill="rgb(255,0,0)"/>
<ellipse cx="280.0" cy="330.0" rx="10.0" ry="10.0" transform="rotate(0 280.0 330.0)" fill="rgb(255,0,0)"/>
<ellipse cx="308.0" cy="354.0" rx="17.0" ry="17.0" transform="rotate(0 308.0 354.0)" fill="rgb(255,0,0)"/>
<ellipse cx="325.0" cy="388.0" rx="20.0" ry="14.0" transform="rotate(0 325.0 388.0)" fill="rgb(255,0,0)"/>
<ellipse cx="330.0" cy="423.0" rx="14.0" ry="12.0" transform="rotate(0 330.0 423.0)" fill="rgb(255,0,0)"/>
<ellipse cx="309.0" cy="465.0" rx="6.0" ry="10.0" transform="rotate(0 309.0 465.0)" fill="rgb(255,0,0)"/>
<ellipse cx="243.0" cy="490.0" rx="11.0" ry="8.0" transform="rotate(0 243.0 490.0)" fill="rgb(255,0,0)"/>
<ellipse cx="277.0" cy="497.0" rx="6.0" ry="5.0" transform="rotate(0 277.0 497.0)" fill="rgb(255,0,0)"/>
<ellipse cx="186.0" cy="476.0" rx="6.0" ry="5.0" transform="rotate(0 186.0 476.0)" fill="rgb(255,0,0)"/>
<ellipse cx="239.5" cy="332.0" rx="4.5" ry="6.0" transform="rotate(0 239.5 332.0)" fill="rgb(255,0,0)"/>
<ellipse cx="162.6" cy="362.0" rx="5.0" ry="5.0" transform="rotate(0 162.6 362.0)" fill="rgb(255,0,0)"/>
<ellipse cx="396.0" cy="336.0" rx="12.0" ry="13.0" transform="rotate(0 396.0 336.0)" fill="rgb(255,0,0)"/>
<ellipse cx="433.0" cy="365.0" rx="11.0" ry="8.0" transform="rotate(0 433.0 365.0)" fill="rgb(255,0,0)"/>
<ellipse cx="398.0" cy="392.0" rx="22.0" ry="20.0" transform="rotate(30 398.0 392.0)" fill="rgb(255,0,0)"/>
<ellipse cx="340.0" cy="400.0" rx="13.0" ry="28.0" transform="rotate(0 340.0 400.0)" fill="rgb(255,0,0)"/>
<ellipse cx="441.0" cy="428.0" rx="7.0" ry="9.0" transform="rotate(0 441.0 428.0)" fill="rgb(255,0,0)"/>
<ellipse cx="423.0" cy="456.0" rx="15.0" ry="13.0" transform="rotate(0 423.0 456.0)" fill="rgb(255,0,0)"/>
<ellipse cx="370.0" cy="474.0" rx="16.0" ry="13.0" transform="rotate(0 370.0 474.0)" fill="rgb(255,0,0)"/>
<ellipse cx="401.0" cy="483.0" rx="10.0" ry="7.0" transform="rotate(0 401.0 483.0)" fill="rgb(255,0,0)"/>
<ellipse cx="428.0" cy="532.0" rx="18.0" ry="14.0" transform="rotate(0 428.0 532.0)" fill="rgb(255,0,0)"/>
<ellipse cx="384.0" cy="528.0" rx="14.0" ry="7.0" transform="rotate(0 384.0 528.0)" fill="rgb(255,0,0)"/>
<ellipse cx="434.0" cy="349.0" rx="12.0" ry="7.0" transform="rotate(0 434.0 349.0)" fill="rgb(255,0,0)"/>
</g></g>
<g clip-path="url(#cBM10top)">
<rect x="84" y="103" width="514" height="64" fill="#42b8fd"/>
<rect x="84" y="103" width="514" height="64" filter="url(#gBM10top)"/>
<g filter="url(#oBM10top)"><rect x="64" y="83" width="554" height="104" fill="rgb(30,0,0)"/>
<ellipse cx="262.0" cy="131.0" rx="70.0" ry="11.0" transform="rotate(-2 262.0 131.0)" fill="rgb(255,0,0)"/>
<ellipse cx="305.0" cy="113.0" rx="40.0" ry="5.0" transform="rotate(0 305.0 113.0)" fill="rgb(255,0,0)"/>
<ellipse cx="250.0" cy="148.0" rx="20.0" ry="2.5" transform="rotate(0 250.0 148.0)" fill="rgb(255,0,0)"/>
<ellipse cx="333.0" cy="147.0" rx="12.0" ry="4.0" transform="rotate(0 333.0 147.0)" fill="rgb(255,0,0)"/>
<ellipse cx="360.0" cy="126.0" rx="20.0" ry="4.0" transform="rotate(0 360.0 126.0)" fill="rgb(255,0,0)"/>
<ellipse cx="420.0" cy="125.0" rx="17.0" ry="3.5" transform="rotate(0 420.0 125.0)" fill="rgb(255,0,0)"/>
<ellipse cx="462.0" cy="119.0" rx="18.0" ry="2.5" transform="rotate(0 462.0 119.0)" fill="rgb(255,0,0)"/>
<ellipse cx="526.0" cy="124.0" rx="14.0" ry="2.5" transform="rotate(0 526.0 124.0)" fill="rgb(255,0,0)"/>
<ellipse cx="397.0" cy="138.0" rx="14.0" ry="2.5" transform="rotate(0 397.0 138.0)" fill="rgb(255,0,0)"/>
<ellipse cx="428.0" cy="141.0" rx="19.0" ry="2.5" transform="rotate(0 428.0 141.0)" fill="rgb(255,0,0)"/>
<ellipse cx="383.0" cy="148.5" rx="21.0" ry="3.0" transform="rotate(0 383.0 148.5)" fill="rgb(255,0,0)"/>
<ellipse cx="350.0" cy="145.0" rx="10.0" ry="3.0" transform="rotate(0 350.0 145.0)" fill="rgb(255,0,0)"/>
<ellipse cx="501.0" cy="135.5" rx="11.0" ry="2.0" transform="rotate(0 501.0 135.5)" fill="rgb(255,0,0)"/>
<ellipse cx="555.0" cy="129.0" rx="10.0" ry="2.5" transform="rotate(0 555.0 129.0)" fill="rgb(255,0,0)"/>
<ellipse cx="392.0" cy="159.0" rx="12.0" ry="2.5" transform="rotate(0 392.0 159.0)" fill="rgb(255,0,0)"/>
<ellipse cx="466.0" cy="156.0" rx="12.0" ry="6.0" transform="rotate(0 466.0 156.0)" fill="rgb(255,0,0)"/>
</g></g>
<g clip-path="url(#cBM10right)">
<rect x="443" y="122" width="155" height="432" fill="#42b8fd"/>
<rect x="443" y="122" width="155" height="432" filter="url(#gBM10right)"/>
<g filter="url(#oBM10right)"><rect x="423" y="102" width="195" height="472" fill="rgb(30,0,0)"/>
<ellipse cx="508.0" cy="178.0" rx="32.0" ry="35.0" transform="rotate(0 508.0 178.0)" fill="rgb(255,0,0)"/>
<ellipse cx="520.0" cy="215.0" rx="16.0" ry="18.0" transform="rotate(0 520.0 215.0)" fill="rgb(255,0,0)"/>
<ellipse cx="495.0" cy="230.0" rx="10.0" ry="15.0" transform="rotate(0 495.0 230.0)" fill="rgb(255,0,0)"/>
<ellipse cx="551.0" cy="198.0" rx="7.0" ry="55.0" transform="rotate(8 551.0 198.0)" fill="rgb(255,0,0)"/>
<ellipse cx="566.0" cy="224.0" rx="6.0" ry="23.0" transform="rotate(0 566.0 224.0)" fill="rgb(255,0,0)"/>
<ellipse cx="582.0" cy="178.0" rx="8.0" ry="45.0" transform="rotate(0 582.0 178.0)" fill="rgb(255,0,0)"/>
<ellipse cx="470.0" cy="273.0" rx="7.0" ry="13.0" transform="rotate(0 470.0 273.0)" fill="rgb(255,0,0)"/>
<ellipse cx="501.0" cy="270.0" rx="7.0" ry="12.0" transform="rotate(0 501.0 270.0)" fill="rgb(255,0,0)"/>
<ellipse cx="530.0" cy="277.0" rx="6.0" ry="9.0" transform="rotate(0 530.0 277.0)" fill="rgb(255,0,0)"/>
<ellipse cx="504.0" cy="308.0" rx="9.0" ry="22.0" transform="rotate(0 504.0 308.0)" fill="rgb(255,0,0)"/>
<ellipse cx="525.0" cy="305.0" rx="12.0" ry="14.0" transform="rotate(0 525.0 305.0)" fill="rgb(255,0,0)"/>
<ellipse cx="563.0" cy="270.0" rx="8.0" ry="23.0" transform="rotate(0 563.0 270.0)" fill="rgb(255,0,0)"/>
<ellipse cx="580.0" cy="294.0" rx="5.0" ry="11.0" transform="rotate(0 580.0 294.0)" fill="rgb(255,0,0)"/>
<ellipse cx="478.0" cy="316.0" rx="7.0" ry="14.0" transform="rotate(0 478.0 316.0)" fill="rgb(255,0,0)"/>
<ellipse cx="485.0" cy="345.0" rx="8.0" ry="27.0" transform="rotate(0 485.0 345.0)" fill="rgb(255,0,0)"/>
<ellipse cx="518.0" cy="352.0" rx="10.0" ry="34.0" transform="rotate(0 518.0 352.0)" fill="rgb(255,0,0)"/>
<ellipse cx="470.0" cy="388.0" rx="9.0" ry="28.0" transform="rotate(10 470.0 388.0)" fill="rgb(255,0,0)"/>
<ellipse cx="501.0" cy="426.0" rx="9.0" ry="23.0" transform="rotate(0 501.0 426.0)" fill="rgb(255,0,0)"/>
<ellipse cx="527.0" cy="422.0" rx="6.0" ry="11.0" transform="rotate(0 527.0 422.0)" fill="rgb(255,0,0)"/>
<ellipse cx="560.0" cy="415.0" rx="6.5" ry="30.0" transform="rotate(0 560.0 415.0)" fill="rgb(255,0,0)"/>
<ellipse cx="578.0" cy="358.0" rx="5.0" ry="10.0" transform="rotate(0 578.0 358.0)" fill="rgb(255,0,0)"/>
<ellipse cx="537.0" cy="360.0" rx="7.0" ry="24.0" transform="rotate(0 537.0 360.0)" fill="rgb(255,0,0)"/>
<ellipse cx="472.0" cy="462.0" rx="8.0" ry="19.0" transform="rotate(0 472.0 462.0)" fill="rgb(255,0,0)"/>
<ellipse cx="505.0" cy="473.0" rx="14.0" ry="28.0" transform="rotate(15 505.0 473.0)" fill="rgb(255,0,0)"/>
<ellipse cx="465.0" cy="512.0" rx="9.0" ry="30.0" transform="rotate(10 465.0 512.0)" fill="rgb(255,0,0)"/>
</g></g>
<polyline points="88.0,138.0 475.0,163.0 446.8,549.2" fill="none" stroke="#8a8a8a" stroke-width="0.8" opacity="0.7"/>
<line x1="475" y1="163" x2="593.5" y2="125.5" stroke="#8a8a8a" stroke-width="0.8" opacity="0.7"/>
<g clip-path="url(#cBM03front)">
<rect x="673" y="118" width="359" height="383" fill="#42b8fd"/>
<rect x="673" y="118" width="359" height="383" filter="url(#gBM03front)"/>
<g filter="url(#oBM03front)"><rect x="653" y="98" width="399" height="423" fill="rgb(68,0,0)"/>
<ellipse cx="753.0" cy="178.0" rx="29.0" ry="27.0" transform="rotate(0 753.0 178.0)" fill="rgb(216,0,0)"/>
<ellipse cx="748.0" cy="139.0" rx="35.0" ry="11.0" transform="rotate(0 748.0 139.0)" fill="rgb(216,0,0)"/>
<ellipse cx="824.0" cy="149.0" rx="44.0" ry="18.0" transform="rotate(0 824.0 149.0)" fill="rgb(216,0,0)"/>
<ellipse cx="835.0" cy="232.0" rx="48.0" ry="30.0" transform="rotate(0 835.0 232.0)" fill="rgb(216,0,0)"/>
<ellipse cx="738.0" cy="228.0" rx="11.0" ry="14.0" transform="rotate(0 738.0 228.0)" fill="rgb(216,0,0)"/>
<ellipse cx="697.0" cy="222.0" rx="12.0" ry="14.0" transform="rotate(0 697.0 222.0)" fill="rgb(216,0,0)"/>
<ellipse cx="710.0" cy="176.0" rx="7.0" ry="9.0" transform="rotate(0 710.0 176.0)" fill="rgb(216,0,0)"/>
<ellipse cx="833.0" cy="292.0" rx="21.0" ry="18.0" transform="rotate(0 833.0 292.0)" fill="rgb(216,0,0)"/>
<ellipse cx="780.6" cy="263.0" rx="7.0" ry="7.0" transform="rotate(0 780.6 263.0)" fill="rgb(216,0,0)"/>
<ellipse cx="750.0" cy="287.0" rx="16.0" ry="12.0" transform="rotate(0 750.0 287.0)" fill="rgb(216,0,0)"/>
<ellipse cx="890.0" cy="213.0" rx="12.0" ry="14.0" transform="rotate(0 890.0 213.0)" fill="rgb(216,0,0)"/>
<ellipse cx="892.0" cy="256.0" rx="8.0" ry="12.0" transform="rotate(0 892.0 256.0)" fill="rgb(216,0,0)"/>
<ellipse cx="694.0" cy="270.0" rx="10.0" ry="13.0" transform="rotate(0 694.0 270.0)" fill="rgb(216,0,0)"/>
<ellipse cx="962.0" cy="189.0" rx="23.0" ry="18.0" transform="rotate(0 962.0 189.0)" fill="rgb(216,0,0)"/>
<ellipse cx="935.0" cy="280.0" rx="40.0" ry="33.0" transform="rotate(0 935.0 280.0)" fill="rgb(216,0,0)"/>
<ellipse cx="960.0" cy="218.0" rx="25.0" ry="9.0" transform="rotate(0 960.0 218.0)" fill="rgb(216,0,0)"/>
<ellipse cx="1008.0" cy="197.0" rx="14.0" ry="11.0" transform="rotate(0 1008.0 197.0)" fill="rgb(216,0,0)"/>
<ellipse cx="1012.0" cy="280.0" rx="11.0" ry="17.0" transform="rotate(0 1012.0 280.0)" fill="rgb(216,0,0)"/>
<ellipse cx="889.0" cy="170.0" rx="9.0" ry="15.0" transform="rotate(0 889.0 170.0)" fill="rgb(216,0,0)"/>
<ellipse cx="928.0" cy="164.0" rx="8.0" ry="4.0" transform="rotate(0 928.0 164.0)" fill="rgb(216,0,0)"/>
<ellipse cx="974.0" cy="151.0" rx="14.0" ry="8.0" transform="rotate(0 974.0 151.0)" fill="rgb(216,0,0)"/>
<ellipse cx="1006.0" cy="218.0" rx="15.0" ry="10.0" transform="rotate(0 1006.0 218.0)" fill="rgb(216,0,0)"/>
<ellipse cx="915.0" cy="201.0" rx="10.0" ry="9.0" transform="rotate(0 915.0 201.0)" fill="rgb(216,0,0)"/>
<ellipse cx="969.0" cy="246.0" rx="10.0" ry="10.0" transform="rotate(0 969.0 246.0)" fill="rgb(216,0,0)"/>
<ellipse cx="733.0" cy="322.0" rx="13.0" ry="19.0" transform="rotate(0 733.0 322.0)" fill="rgb(216,0,0)"/>
<ellipse cx="780.0" cy="353.0" rx="11.0" ry="11.0" transform="rotate(0 780.0 353.0)" fill="rgb(216,0,0)"/>
<ellipse cx="808.0" cy="378.0" rx="12.0" ry="25.0" transform="rotate(0 808.0 378.0)" fill="rgb(216,0,0)"/>
<ellipse cx="800.0" cy="361.0" rx="12.0" ry="7.0" transform="rotate(0 800.0 361.0)" fill="rgb(216,0,0)"/>
<ellipse cx="854.0" cy="364.0" rx="28.0" ry="10.0" transform="rotate(0 854.0 364.0)" fill="rgb(216,0,0)"/>
<ellipse cx="722.0" cy="398.0" rx="21.0" ry="12.0" transform="rotate(0 722.0 398.0)" fill="rgb(216,0,0)"/>
<ellipse cx="764.0" cy="418.0" rx="10.0" ry="16.0" transform="rotate(0 764.0 418.0)" fill="rgb(216,0,0)"/>
<ellipse cx="851.0" cy="417.0" rx="17.0" ry="18.0" transform="rotate(0 851.0 417.0)" fill="rgb(216,0,0)"/>
<ellipse cx="874.0" cy="413.0" rx="17.0" ry="11.0" transform="rotate(0 874.0 413.0)" fill="rgb(216,0,0)"/>
<ellipse cx="862.0" cy="334.0" rx="16.0" ry="8.0" transform="rotate(0 862.0 334.0)" fill="rgb(216,0,0)"/>
<ellipse cx="795.0" cy="317.0" rx="5.0" ry="6.0" transform="rotate(0 795.0 317.0)" fill="rgb(216,0,0)"/>
<ellipse cx="826.0" cy="315.0" rx="7.0" ry="6.0" transform="rotate(0 826.0 315.0)" fill="rgb(216,0,0)"/>
<ellipse cx="695.0" cy="325.0" rx="8.0" ry="10.0" transform="rotate(0 695.0 325.0)" fill="rgb(216,0,0)"/>
<ellipse cx="697.0" cy="371.0" rx="6.0" ry="8.0" transform="rotate(0 697.0 371.0)" fill="rgb(216,0,0)"/>
<ellipse cx="821.0" cy="432.0" rx="9.0" ry="10.0" transform="rotate(0 821.0 432.0)" fill="rgb(216,0,0)"/>
<ellipse cx="852.0" cy="450.0" rx="9.0" ry="6.0" transform="rotate(0 852.0 450.0)" fill="rgb(216,0,0)"/>
<ellipse cx="877.0" cy="443.0" rx="6.0" ry="7.0" transform="rotate(0 877.0 443.0)" fill="rgb(216,0,0)"/>
<ellipse cx="762.0" cy="340.0" rx="7.0" ry="6.0" transform="rotate(0 762.0 340.0)" fill="rgb(216,0,0)"/>
<ellipse cx="988.0" cy="385.0" rx="19.0" ry="50.0" transform="rotate(0 988.0 385.0)" fill="rgb(216,0,0)"/>
<ellipse cx="958.0" cy="413.0" rx="14.0" ry="14.0" transform="rotate(0 958.0 413.0)" fill="rgb(216,0,0)"/>
<ellipse cx="926.0" cy="325.0" rx="18.0" ry="11.0" transform="rotate(0 926.0 325.0)" fill="rgb(216,0,0)"/>
<ellipse cx="887.0" cy="372.0" rx="7.0" ry="15.0" transform="rotate(0 887.0 372.0)" fill="rgb(216,0,0)"/>
<ellipse cx="916.0" cy="382.0" rx="15.0" ry="14.0" transform="rotate(0 916.0 382.0)" fill="rgb(216,0,0)"/>
<ellipse cx="945.0" cy="354.0" rx="8.0" ry="7.0" transform="rotate(0 945.0 354.0)" fill="rgb(216,0,0)"/>
<ellipse cx="917.0" cy="435.0" rx="9.0" ry="7.0" transform="rotate(0 917.0 435.0)" fill="rgb(216,0,0)"/>
<ellipse cx="944.0" cy="463.0" rx="15.0" ry="7.0" transform="rotate(0 944.0 463.0)" fill="rgb(216,0,0)"/>
<ellipse cx="972.0" cy="449.0" rx="10.0" ry="7.0" transform="rotate(0 972.0 449.0)" fill="rgb(216,0,0)"/>
<ellipse cx="1007.0" cy="459.0" rx="7.0" ry="6.0" transform="rotate(0 1007.0 459.0)" fill="rgb(216,0,0)"/>
<ellipse cx="974.0" cy="316.0" rx="19.0" ry="12.0" transform="rotate(0 974.0 316.0)" fill="rgb(216,0,0)"/>
<ellipse cx="894.0" cy="328.0" rx="12.0" ry="12.0" transform="rotate(0 894.0 328.0)" fill="rgb(216,0,0)"/>
<ellipse cx="905.0" cy="419.0" rx="10.0" ry="8.0" transform="rotate(0 905.0 419.0)" fill="rgb(216,0,0)"/>
</g></g>
<g clip-path="url(#cBM03top)">
<rect x="673" y="103" width="430" height="44" fill="#42b8fd"/>
<rect x="673" y="103" width="430" height="44" filter="url(#gBM03top)"/>
<g filter="url(#oBM03top)"><rect x="653" y="83" width="470" height="84" fill="rgb(68,0,0)"/>
<ellipse cx="745.0" cy="116.0" rx="17.0" ry="2.0" transform="rotate(0 745.0 116.0)" fill="rgb(216,0,0)"/>
<ellipse cx="900.0" cy="129.0" rx="21.0" ry="3.0" transform="rotate(0 900.0 129.0)" fill="rgb(216,0,0)"/>
<ellipse cx="995.0" cy="127.0" rx="27.0" ry="3.0" transform="rotate(0 995.0 127.0)" fill="rgb(216,0,0)"/>
<ellipse cx="1043.0" cy="130.0" rx="21.0" ry="3.0" transform="rotate(0 1043.0 130.0)" fill="rgb(216,0,0)"/>
<ellipse cx="1071.0" cy="132.0" rx="21.0" ry="3.0" transform="rotate(0 1071.0 132.0)" fill="rgb(216,0,0)"/>
<ellipse cx="950.0" cy="135.5" rx="28.0" ry="2.5" transform="rotate(0 950.0 135.5)" fill="rgb(216,0,0)"/>
<ellipse cx="860.0" cy="125.0" rx="20.0" ry="2.5" transform="rotate(0 860.0 125.0)" fill="rgb(216,0,0)"/>
<ellipse cx="800.0" cy="118.0" rx="18.0" ry="2.0" transform="rotate(0 800.0 118.0)" fill="rgb(216,0,0)"/>
<ellipse cx="1000.0" cy="118.0" rx="15.0" ry="2.0" transform="rotate(0 1000.0 118.0)" fill="rgb(216,0,0)"/>
</g></g>
<g clip-path="url(#cBM03right)">
<rect x="1011" y="121" width="93" height="379" fill="#42b8fd"/>
<rect x="1011" y="121" width="93" height="379" filter="url(#gBM03right)"/>
<g filter="url(#oBM03right)"><rect x="991" y="101" width="133" height="419" fill="rgb(68,0,0)"/>
<ellipse cx="1087.0" cy="157.0" rx="11.0" ry="28.0" transform="rotate(0 1087.0 157.0)" fill="rgb(216,0,0)"/>
<ellipse cx="1062.0" cy="203.0" rx="6.0" ry="30.0" transform="rotate(0 1062.0 203.0)" fill="rgb(216,0,0)"/>
<ellipse cx="1041.0" cy="210.0" rx="5.0" ry="25.0" transform="rotate(0 1041.0 210.0)" fill="rgb(216,0,0)"/>
<ellipse cx="1088.0" cy="210.0" rx="7.0" ry="15.0" transform="rotate(0 1088.0 210.0)" fill="rgb(216,0,0)"/>
<ellipse cx="1043.0" cy="256.0" rx="6.0" ry="20.0" transform="rotate(0 1043.0 256.0)" fill="rgb(216,0,0)"/>
<ellipse cx="1064.0" cy="256.0" rx="7.0" ry="14.0" transform="rotate(0 1064.0 256.0)" fill="rgb(216,0,0)"/>
<ellipse cx="1085.0" cy="281.0" rx="7.0" ry="18.0" transform="rotate(0 1085.0 281.0)" fill="rgb(216,0,0)"/>
<ellipse cx="1071.0" cy="147.0" rx="7.0" ry="12.0" transform="rotate(0 1071.0 147.0)" fill="rgb(216,0,0)"/>
<ellipse cx="1051.0" cy="410.0" rx="12.0" ry="32.0" transform="rotate(0 1051.0 410.0)" fill="rgb(216,0,0)"/>
<ellipse cx="1027.0" cy="344.0" rx="5.0" ry="27.0" transform="rotate(0 1027.0 344.0)" fill="rgb(216,0,0)"/>
<ellipse cx="1082.0" cy="342.0" rx="6.0" ry="28.0" transform="rotate(0 1082.0 342.0)" fill="rgb(216,0,0)"/>
<ellipse cx="1046.0" cy="321.0" rx="7.0" ry="20.0" transform="rotate(0 1046.0 321.0)" fill="rgb(216,0,0)"/>
<ellipse cx="1070.0" cy="440.0" rx="5.0" ry="12.0" transform="rotate(0 1070.0 440.0)" fill="rgb(216,0,0)"/>
<ellipse cx="1080.0" cy="406.0" rx="4.0" ry="20.0" transform="rotate(0 1080.0 406.0)" fill="rgb(216,0,0)"/>
</g></g>
<polyline points="677.2,121.7 1028.5,143.5 1014.8,496.3" fill="none" stroke="#8a8a8a" stroke-width="0.8" opacity="0.7"/>
<line x1="1028.5" y1="143.5" x2="1099.4" y2="125" stroke="#8a8a8a" stroke-width="0.8" opacity="0.7"/>
<g clip-path="url(#cBM01front)">
<rect x="1159" y="141" width="457" height="382" fill="#42b8fd"/>
<rect x="1159" y="141" width="457" height="382" filter="url(#gBM01front)"/>
<g filter="url(#oBM01front)"><rect x="1139" y="121" width="497" height="422" fill="rgb(91,0,0)"/>
<ellipse cx="1230.0" cy="181.0" rx="28.0" ry="17.0" transform="rotate(-15 1230.0 181.0)" fill="rgb(198,0,0)"/>
<ellipse cx="1340.0" cy="255.0" rx="35.0" ry="25.0" transform="rotate(30 1340.0 255.0)" fill="rgb(198,0,0)"/>
<ellipse cx="1360.0" cy="300.0" rx="20.0" ry="25.0" transform="rotate(0 1360.0 300.0)" fill="rgb(198,0,0)"/>
<ellipse cx="1195.0" cy="256.0" rx="22.0" ry="25.0" transform="rotate(0 1195.0 256.0)" fill="rgb(198,0,0)"/>
<ellipse cx="1325.0" cy="188.0" rx="21.0" ry="14.0" transform="rotate(0 1325.0 188.0)" fill="rgb(198,0,0)"/>
<ellipse cx="1263.0" cy="195.0" rx="12.0" ry="12.0" transform="rotate(0 1263.0 195.0)" fill="rgb(198,0,0)"/>
<ellipse cx="1288.0" cy="245.0" rx="20.0" ry="12.0" transform="rotate(0 1288.0 245.0)" fill="rgb(198,0,0)"/>
<ellipse cx="1415.0" cy="248.0" rx="16.0" ry="16.0" transform="rotate(0 1415.0 248.0)" fill="rgb(198,0,0)"/>
<ellipse cx="1375.0" cy="203.0" rx="16.0" ry="12.0" transform="rotate(0 1375.0 203.0)" fill="rgb(198,0,0)"/>
<ellipse cx="1436.0" cy="190.0" rx="12.0" ry="16.0" transform="rotate(0 1436.0 190.0)" fill="rgb(198,0,0)"/>
<ellipse cx="1189.0" cy="182.0" rx="12.0" ry="9.0" transform="rotate(0 1189.0 182.0)" fill="rgb(198,0,0)"/>
<ellipse cx="1246.0" cy="219.0" rx="12.0" ry="12.0" transform="rotate(0 1246.0 219.0)" fill="rgb(198,0,0)"/>
<ellipse cx="1226.0" cy="285.0" rx="16.0" ry="12.0" transform="rotate(0 1226.0 285.0)" fill="rgb(198,0,0)"/>
<ellipse cx="1267.0" cy="305.0" rx="16.0" ry="15.0" transform="rotate(0 1267.0 305.0)" fill="rgb(198,0,0)"/>
<ellipse cx="1362.0" cy="174.0" rx="12.0" ry="8.0" transform="rotate(0 1362.0 174.0)" fill="rgb(198,0,0)"/>
<ellipse cx="1438.0" cy="265.0" rx="22.0" ry="16.0" transform="rotate(0 1438.0 265.0)" fill="rgb(198,0,0)"/>
<ellipse cx="1578.0" cy="232.0" rx="34.0" ry="45.0" transform="rotate(0 1578.0 232.0)" fill="rgb(198,0,0)"/>
<ellipse cx="1510.0" cy="255.0" rx="28.0" ry="25.0" transform="rotate(-30 1510.0 255.0)" fill="rgb(198,0,0)"/>
<ellipse cx="1465.0" cy="217.0" rx="14.0" ry="14.0" transform="rotate(0 1465.0 217.0)" fill="rgb(198,0,0)"/>
<ellipse cx="1509.0" cy="193.0" rx="15.0" ry="9.0" transform="rotate(0 1509.0 193.0)" fill="rgb(198,0,0)"/>
<ellipse cx="1505.0" cy="298.0" rx="28.0" ry="22.0" transform="rotate(0 1505.0 298.0)" fill="rgb(198,0,0)"/>
<ellipse cx="1580.0" cy="305.0" rx="25.0" ry="14.0" transform="rotate(0 1580.0 305.0)" fill="rgb(198,0,0)"/>
<ellipse cx="1462.0" cy="265.0" rx="12.0" ry="16.0" transform="rotate(0 1462.0 265.0)" fill="rgb(198,0,0)"/>
<ellipse cx="1366.0" cy="335.0" rx="40.0" ry="28.0" transform="rotate(15 1366.0 335.0)" fill="rgb(198,0,0)"/>
<ellipse cx="1425.0" cy="368.0" rx="34.0" ry="25.0" transform="rotate(0 1425.0 368.0)" fill="rgb(198,0,0)"/>
<ellipse cx="1430.0" cy="450.0" rx="40.0" ry="33.0" transform="rotate(0 1430.0 450.0)" fill="rgb(198,0,0)"/>
<ellipse cx="1197.0" cy="398.0" rx="20.0" ry="19.0" transform="rotate(0 1197.0 398.0)" fill="rgb(198,0,0)"/>
<ellipse cx="1268.0" cy="403.0" rx="30.0" ry="28.0" transform="rotate(-20 1268.0 403.0)" fill="rgb(198,0,0)"/>
<ellipse cx="1337.0" cy="405.0" rx="12.0" ry="12.0" transform="rotate(0 1337.0 405.0)" fill="rgb(198,0,0)"/>
<ellipse cx="1318.0" cy="433.0" rx="15.0" ry="9.0" transform="rotate(0 1318.0 433.0)" fill="rgb(198,0,0)"/>
<ellipse cx="1358.0" cy="376.0" rx="8.0" ry="8.0" transform="rotate(0 1358.0 376.0)" fill="rgb(198,0,0)"/>
<ellipse cx="1362.0" cy="427.0" rx="12.0" ry="15.0" transform="rotate(0 1362.0 427.0)" fill="rgb(198,0,0)"/>
<ellipse cx="1183.0" cy="343.0" rx="10.0" ry="17.0" transform="rotate(0 1183.0 343.0)" fill="rgb(198,0,0)"/>
<ellipse cx="1217.0" cy="318.0" rx="11.0" ry="8.0" transform="rotate(0 1217.0 318.0)" fill="rgb(198,0,0)"/>
<ellipse cx="1263.0" cy="345.0" rx="12.0" ry="15.0" transform="rotate(0 1263.0 345.0)" fill="rgb(198,0,0)"/>
<ellipse cx="1415.0" cy="325.0" rx="15.0" ry="12.0" transform="rotate(0 1415.0 325.0)" fill="rgb(198,0,0)"/>
<ellipse cx="1490.0" cy="442.0" rx="42.0" ry="33.0" transform="rotate(0 1490.0 442.0)" fill="rgb(198,0,0)"/>
<ellipse cx="1560.0" cy="490.0" rx="45.0" ry="30.0" transform="rotate(0 1560.0 490.0)" fill="rgb(198,0,0)"/>
<ellipse cx="1577.0" cy="403.0" rx="28.0" ry="14.0" transform="rotate(0 1577.0 403.0)" fill="rgb(198,0,0)"/>
<ellipse cx="1474.0" cy="398.0" rx="14.0" ry="14.0" transform="rotate(0 1474.0 398.0)" fill="rgb(198,0,0)"/>
<ellipse cx="1470.0" cy="338.0" rx="25.0" ry="12.0" transform="rotate(0 1470.0 338.0)" fill="rgb(198,0,0)"/>
<ellipse cx="1590.0" cy="330.0" rx="15.0" ry="15.0" transform="rotate(0 1590.0 330.0)" fill="rgb(198,0,0)"/>
<ellipse cx="1597.0" cy="370.0" rx="8.0" ry="21.0" transform="rotate(0 1597.0 370.0)" fill="rgb(198,0,0)"/>
<ellipse cx="1507.0" cy="383.0" rx="16.0" ry="10.0" transform="rotate(0 1507.0 383.0)" fill="rgb(198,0,0)"/>
<ellipse cx="1395.0" cy="490.0" rx="15.0" ry="10.0" transform="rotate(0 1395.0 490.0)" fill="rgb(198,0,0)"/>
</g></g>
<g clip-path="url(#cBM01top)">
<rect x="1159" y="104" width="586" height="84" fill="#42b8fd"/>
<rect x="1159" y="104" width="586" height="84" filter="url(#gBM01top)"/>
<g filter="url(#oBM01top)"><rect x="1139" y="84" width="626" height="124" fill="rgb(91,0,0)"/>
<ellipse cx="1400.0" cy="148.0" rx="58.0" ry="6.0" transform="rotate(0 1400.0 148.0)" fill="rgb(198,0,0)"/>
<ellipse cx="1317.0" cy="152.0" rx="25.0" ry="4.0" transform="rotate(0 1317.0 152.0)" fill="rgb(198,0,0)"/>
<ellipse cx="1442.0" cy="134.5" rx="18.0" ry="5.0" transform="rotate(0 1442.0 134.5)" fill="rgb(198,0,0)"/>
<ellipse cx="1375.0" cy="125.5" rx="33.0" ry="4.0" transform="rotate(0 1375.0 125.5)" fill="rgb(198,0,0)"/>
<ellipse cx="1267.0" cy="144.5" rx="25.0" ry="5.0" transform="rotate(0 1267.0 144.5)" fill="rgb(198,0,0)"/>
<ellipse cx="1582.0" cy="162.0" rx="33.0" ry="4.0" transform="rotate(0 1582.0 162.0)" fill="rgb(198,0,0)"/>
<ellipse cx="1652.0" cy="158.0" rx="37.0" ry="6.0" transform="rotate(0 1652.0 158.0)" fill="rgb(198,0,0)"/>
<ellipse cx="1540.0" cy="174.0" rx="40.0" ry="5.0" transform="rotate(0 1540.0 174.0)" fill="rgb(198,0,0)"/>
<ellipse cx="1500.0" cy="137.0" rx="45.0" ry="6.0" transform="rotate(0 1500.0 137.0)" fill="rgb(198,0,0)"/>
<ellipse cx="1650.0" cy="140.0" rx="30.0" ry="4.0" transform="rotate(0 1650.0 140.0)" fill="rgb(198,0,0)"/>
<ellipse cx="1700.0" cy="150.0" rx="25.0" ry="4.0" transform="rotate(0 1700.0 150.0)" fill="rgb(198,0,0)"/>
</g></g>
<g clip-path="url(#cBM01right)">
<rect x="1596" y="134" width="149" height="389" fill="#42b8fd"/>
<rect x="1596" y="134" width="149" height="389" filter="url(#gBM01right)"/>
<g filter="url(#oBM01right)"><rect x="1576" y="114" width="189" height="429" fill="rgb(91,0,0)"/>
<ellipse cx="1623.0" cy="260.0" rx="7.0" ry="55.0" transform="rotate(0 1623.0 260.0)" fill="rgb(198,0,0)"/>
<ellipse cx="1722.0" cy="172.0" rx="8.0" ry="27.0" transform="rotate(0 1722.0 172.0)" fill="rgb(198,0,0)"/>
<ellipse cx="1673.0" cy="224.0" rx="8.0" ry="25.0" transform="rotate(0 1673.0 224.0)" fill="rgb(198,0,0)"/>
<ellipse cx="1695.0" cy="248.0" rx="11.0" ry="33.0" transform="rotate(0 1695.0 248.0)" fill="rgb(198,0,0)"/>
<ellipse cx="1616.0" cy="446.0" rx="9.0" ry="70.0" transform="rotate(0 1616.0 446.0)" fill="rgb(198,0,0)"/>
<ellipse cx="1670.0" cy="368.0" rx="22.0" ry="40.0" transform="rotate(0 1670.0 368.0)" fill="rgb(198,0,0)"/>
<ellipse cx="1631.0" cy="326.0" rx="8.0" ry="16.0" transform="rotate(0 1631.0 326.0)" fill="rgb(198,0,0)"/>
<ellipse cx="1636.0" cy="450.0" rx="8.0" ry="25.0" transform="rotate(0 1636.0 450.0)" fill="rgb(198,0,0)"/>
<ellipse cx="1705.0" cy="320.0" rx="6.0" ry="30.0" transform="rotate(0 1705.0 320.0)" fill="rgb(198,0,0)"/>
<ellipse cx="1730.0" cy="260.0" rx="5.0" ry="40.0" transform="rotate(0 1730.0 260.0)" fill="rgb(198,0,0)"/>
<ellipse cx="1650.0" cy="200.0" rx="6.0" ry="20.0" transform="rotate(0 1650.0 200.0)" fill="rgb(198,0,0)"/>
<ellipse cx="1700.0" cy="420.0" rx="8.0" ry="25.0" transform="rotate(0 1700.0 420.0)" fill="rgb(198,0,0)"/>
</g></g>
<g clip-path="url(#cBM01right)"><ellipse cx="1680" cy="322.5" rx="16.5" ry="8.5" transform="rotate(33 1680 322.5)" fill="#fff"/></g>
<ellipse cx="1436" cy="174.5" rx="11" ry="2.2" transform="rotate(10 1436 174.5)" fill="#fff"/>
<polyline points="1162.8,145.0 1611.5,185.0 1600.5,518.5" fill="none" stroke="#8a8a8a" stroke-width="0.8" opacity="0.7"/>
<line x1="1611.5" y1="185" x2="1741.3" y2="137.7" stroke="#8a8a8a" stroke-width="0.8" opacity="0.7"/>
<line x1="104.7" y1="468.2" x2="444.6" y2="558.3" stroke="#000" stroke-width="2.8" stroke-linecap="butt"/>
<line x1="453.3" y1="552.2" x2="584.3" y2="426" stroke="#000" stroke-width="2.8" stroke-linecap="butt"/>
<line x1="602.5" y1="125" x2="586" y2="422.4" stroke="#000" stroke-width="2.8" stroke-linecap="butt"/>
<line x1="693.5" y1="424.4" x2="1013.1" y2="504.4" stroke="#000" stroke-width="2.8" stroke-linecap="butt"/>
<line x1="1023.6" y1="499.6" x2="1089.2" y2="428.4" stroke="#000" stroke-width="2.8" stroke-linecap="butt"/>
<line x1="1108.4" y1="125.2" x2="1091.6" y2="424.7" stroke="#000" stroke-width="2.8" stroke-linecap="butt"/>
<line x1="1180.8" y1="424.4" x2="1598" y2="528.5" stroke="#000" stroke-width="2.8" stroke-linecap="butt"/>
<line x1="1609.6" y1="518.9" x2="1733.4" y2="399" stroke="#000" stroke-width="2.8" stroke-linecap="butt"/>
<line x1="1748.4" y1="136.9" x2="1733.8" y2="395.5" stroke="#000" stroke-width="2.8" stroke-linecap="butt"/>
<text transform="translate(263.4,535) rotate(15)" font-size="28" text-anchor="middle">90.0 µm</text>
<text transform="translate(543.5,501.5) rotate(-44.5)" font-size="28" text-anchor="middle">79.9 µm</text>
<text transform="translate(618.5,277.5) rotate(-86.8)" font-size="28" text-anchor="middle">77.4 µm</text>
<text transform="translate(838,487.5) rotate(14)" font-size="28" text-anchor="middle">85.0 µm</text>
<text transform="translate(1078,478.5) rotate(-47)" font-size="29" text-anchor="middle">43.3 µm</text>
<text transform="translate(1124.6,293.8) rotate(-87)" font-size="28" text-anchor="middle">71.3 µm</text>
<text transform="translate(1371,497.4) rotate(14)" font-size="28" text-anchor="middle">114.3 µm</text>
<text transform="translate(1692.2,473.4) rotate(-46.5)" font-size="28" text-anchor="middle">81.3 µm</text>
<text transform="translate(1765.2,276.7) rotate(-87.5)" font-size="28" text-anchor="middle">68.1 µm</text>
<line x1="634" y1="308" x2="634" y2="515" stroke="#000" stroke-width="5.5" stroke-linecap="butt"/>
<line x1="631.5" y1="512.3" x2="865" y2="512.3" stroke="#000" stroke-width="6.5" stroke-linecap="butt"/>
<line x1="636" y1="510" x2="551" y2="625.2" stroke="#000" stroke-width="6.5" stroke-linecap="butt"/>
<text x="646" y="323.5" font-size="44" text-anchor="start" font-weight="bold" >z</text>
<text x="831" y="547.5" font-size="44" text-anchor="start" font-weight="bold" >y</text>
<text x="517" y="609.5" font-size="44" text-anchor="start" font-weight="bold" >x</text>
<rect x="243.7" y="616.7" width="94.10000000000002" height="77.69999999999993" fill="#42b8fd" stroke="#000" stroke-width="4"/>
<rect x="688.0" y="616.7" width="96" height="77.69999999999993" fill="#ffc300" stroke="#000" stroke-width="4"/>
<rect x="1018.0" y="615.7" width="96" height="80.29999999999995" fill="#000" stroke="#000" stroke-width="4"/>
<rect x="1374.9" y="616.7" width="95.89999999999986" height="78.29999999999995" fill="#fff" stroke="#000" stroke-width="4"/>
<text x="374" y="672" font-size="44" text-anchor="start" font-weight="normal" >CAM</text>
<text x="818" y="672" font-size="44" text-anchor="start" font-weight="normal" >ISE</text>
<text x="1148" y="672" font-size="44" text-anchor="start" font-weight="normal" >pore</text>
<text x="1505" y="672" font-size="44" text-anchor="start" font-weight="normal" >impurity</text>
<rect x="158.0" y="812.0799999999999" width="70" height="491.9200000000001" fill="#016daf" stroke="#000" stroke-width="6" stroke-linejoin="round"/>
<rect x="302.7" y="853.4399999999999" width="70" height="450.56000000000006" fill="#016daf" stroke="#000" stroke-width="6" stroke-linejoin="round"/>
<rect x="446.5" y="891.28" width="70" height="412.72" fill="#016daf" stroke="#000" stroke-width="6" stroke-linejoin="round"/>
<line x1="155" y1="954.6399999999999" x2="231" y2="954.6399999999999" stroke="#000" stroke-width="6.5" stroke-linecap="round"/>
<line x1="299.7" y1="934.8399999999999" x2="375.7" y2="934.8399999999999" stroke="#000" stroke-width="6.5" stroke-linecap="round"/>
<line x1="443.5" y1="913.28" x2="519.5" y2="913.28" stroke="#000" stroke-width="6.5" stroke-linecap="round"/>
<line x1="122" y1="1304.0" x2="139.0" y2="1304.0" stroke="#000" stroke-width="5" stroke-linecap="butt"/>
<line x1="555" y1="1304.0" x2="538.0" y2="1304.0" stroke="#000" stroke-width="5" stroke-linecap="butt"/>
<text x="102.7" y="1315.0" font-size="37" text-anchor="end">0</text>
<line x1="122" y1="1260.0" x2="132.0" y2="1260.0" stroke="#000" stroke-width="5" stroke-linecap="butt"/>
<line x1="555" y1="1260.0" x2="545.0" y2="1260.0" stroke="#000" stroke-width="5" stroke-linecap="butt"/>
<line x1="122" y1="1216.0" x2="139.0" y2="1216.0" stroke="#000" stroke-width="5" stroke-linecap="butt"/>
<line x1="555" y1="1216.0" x2="538.0" y2="1216.0" stroke="#000" stroke-width="5" stroke-linecap="butt"/>
<text x="102.7" y="1227.0" font-size="37" text-anchor="end">10</text>
<line x1="122" y1="1172.0" x2="132.0" y2="1172.0" stroke="#000" stroke-width="5" stroke-linecap="butt"/>
<line x1="555" y1="1172.0" x2="545.0" y2="1172.0" stroke="#000" stroke-width="5" stroke-linecap="butt"/>
<line x1="122" y1="1128.0" x2="139.0" y2="1128.0" stroke="#000" stroke-width="5" stroke-linecap="butt"/>
<line x1="555" y1="1128.0" x2="538.0" y2="1128.0" stroke="#000" stroke-width="5" stroke-linecap="butt"/>
<text x="102.7" y="1139.0" font-size="37" text-anchor="end">20</text>
<line x1="122" y1="1084.0" x2="132.0" y2="1084.0" stroke="#000" stroke-width="5" stroke-linecap="butt"/>
<line x1="555" y1="1084.0" x2="545.0" y2="1084.0" stroke="#000" stroke-width="5" stroke-linecap="butt"/>
<line x1="122" y1="1040.0" x2="139.0" y2="1040.0" stroke="#000" stroke-width="5" stroke-linecap="butt"/>
<line x1="555" y1="1040.0" x2="538.0" y2="1040.0" stroke="#000" stroke-width="5" stroke-linecap="butt"/>
<text x="102.7" y="1051.0" font-size="37" text-anchor="end">30</text>
<line x1="122" y1="996.0" x2="132.0" y2="996.0" stroke="#000" stroke-width="5" stroke-linecap="butt"/>
<line x1="555" y1="996.0" x2="545.0" y2="996.0" stroke="#000" stroke-width="5" stroke-linecap="butt"/>
<line x1="122" y1="952.0" x2="139.0" y2="952.0" stroke="#000" stroke-width="5" stroke-linecap="butt"/>
<line x1="555" y1="952.0" x2="538.0" y2="952.0" stroke="#000" stroke-width="5" stroke-linecap="butt"/>
<text x="102.7" y="963.0" font-size="37" text-anchor="end">40</text>
<line x1="122" y1="908.0" x2="132.0" y2="908.0" stroke="#000" stroke-width="5" stroke-linecap="butt"/>
<line x1="555" y1="908.0" x2="545.0" y2="908.0" stroke="#000" stroke-width="5" stroke-linecap="butt"/>
<line x1="122" y1="864.0" x2="139.0" y2="864.0" stroke="#000" stroke-width="5" stroke-linecap="butt"/>
<line x1="555" y1="864.0" x2="538.0" y2="864.0" stroke="#000" stroke-width="5" stroke-linecap="butt"/>
<text x="102.7" y="875.0" font-size="37" text-anchor="end">50</text>
<line x1="122" y1="820.0" x2="132.0" y2="820.0" stroke="#000" stroke-width="5" stroke-linecap="butt"/>
<line x1="555" y1="820.0" x2="545.0" y2="820.0" stroke="#000" stroke-width="5" stroke-linecap="butt"/>
<line x1="122" y1="776.0" x2="139.0" y2="776.0" stroke="#000" stroke-width="5" stroke-linecap="butt"/>
<line x1="555" y1="776.0" x2="538.0" y2="776.0" stroke="#000" stroke-width="5" stroke-linecap="butt"/>
<text x="102.7" y="787.0" font-size="37" text-anchor="end">60</text>
<line x1="193" y1="776" x2="193" y2="792.0" stroke="#000" stroke-width="5" stroke-linecap="butt"/>
<line x1="193" y1="1304" x2="193" y2="1288.0" stroke="#000" stroke-width="5" stroke-linecap="butt"/>
<line x1="337.7" y1="776" x2="337.7" y2="792.0" stroke="#000" stroke-width="5" stroke-linecap="butt"/>
<line x1="337.7" y1="1304" x2="337.7" y2="1288.0" stroke="#000" stroke-width="5" stroke-linecap="butt"/>
<line x1="481.5" y1="776" x2="481.5" y2="792.0" stroke="#000" stroke-width="5" stroke-linecap="butt"/>
<line x1="481.5" y1="1304" x2="481.5" y2="1288.0" stroke="#000" stroke-width="5" stroke-linecap="butt"/>
<rect x="122" y="776" width="433" height="528" fill="none" stroke="#000" stroke-width="6"/>
<text x="193" y="1351" font-size="37.5" font-weight="bold" text-anchor="middle" textLength="98" lengthAdjust="spacingAndGlyphs">BM10</text>
<text x="337.7" y="1351" font-size="37.5" font-weight="bold" text-anchor="middle" textLength="98" lengthAdjust="spacingAndGlyphs">BM03</text>
<text x="481.5" y="1351" font-size="37.5" font-weight="bold" text-anchor="middle" textLength="95" lengthAdjust="spacingAndGlyphs">BM01</text>
<text x="490" y="827" font-size="42" text-anchor="start" font-weight="bold" >b)</text>
<text transform="translate(34,1123.5) rotate(-90)" font-size="39" font-family="'Liberation Serif', serif" font-style="italic">φ</text>
<text transform="translate(46.6,1098.5) rotate(-90)" font-size="33" font-weight="bold" textLength="65" lengthAdjust="spacingAndGlyphs">CAM</text>
<text transform="translate(33.5,1019) rotate(-90)" font-size="44" font-weight="bold" textLength="61" lengthAdjust="spacingAndGlyphs">/ %</text>
<rect x="160.65" y="1371.75" width="99.79999999999998" height="46.5" fill="#016daf" stroke="#000" stroke-width="5.5"/>
<text x="294.5" y="1407" font-size="44" text-anchor="start" font-weight="normal" >segmented</text>
<line x1="170" y1="1454" x2="250" y2="1454" stroke="#000" stroke-width="6.5" stroke-linecap="round"/>
<text x="294.5" y="1469.5" font-size="44" text-anchor="start" font-weight="normal" >geometric</text>
<rect x="783.5" y="1011.8399999999999" width="70" height="292.1600000000001" fill="#f2ca6a" stroke="#000" stroke-width="6" stroke-linejoin="round"/>
<rect x="927.0" y="937.04" width="70" height="366.96000000000004" fill="#f2ca6a" stroke="#000" stroke-width="6" stroke-linejoin="round"/>
<rect x="1071.0" y="889.52" width="70" height="414.48" fill="#f2ca6a" stroke="#000" stroke-width="6" stroke-linejoin="round"/>
<line x1="780.5" y1="955.52" x2="856.5" y2="955.52" stroke="#000" stroke-width="6.5" stroke-linecap="round"/>
<line x1="924" y1="936.16" x2="1000" y2="936.16" stroke="#000" stroke-width="6.5" stroke-linecap="round"/>
<line x1="1068" y1="914.16" x2="1144" y2="914.16" stroke="#000" stroke-width="6.5" stroke-linecap="round"/>
<line x1="746.7" y1="1304.0" x2="763.7" y2="1304.0" stroke="#000" stroke-width="5" stroke-linecap="butt"/>
<line x1="1178" y1="1304.0" x2="1161.0" y2="1304.0" stroke="#000" stroke-width="5" stroke-linecap="butt"/>
<text x="727.4" y="1315.0" font-size="37" text-anchor="end">0</text>
<line x1="746.7" y1="1260.0" x2="756.7" y2="1260.0" stroke="#000" stroke-width="5" stroke-linecap="butt"/>
<line x1="1178" y1="1260.0" x2="1168.0" y2="1260.0" stroke="#000" stroke-width="5" stroke-linecap="butt"/>
<line x1="746.7" y1="1216.0" x2="763.7" y2="1216.0" stroke="#000" stroke-width="5" stroke-linecap="butt"/>
<line x1="1178" y1="1216.0" x2="1161.0" y2="1216.0" stroke="#000" stroke-width="5" stroke-linecap="butt"/>
<text x="727.4" y="1227.0" font-size="37" text-anchor="end">10</text>
<line x1="746.7" y1="1172.0" x2="756.7" y2="1172.0" stroke="#000" stroke-width="5" stroke-linecap="butt"/>
<line x1="1178" y1="1172.0" x2="1168.0" y2="1172.0" stroke="#000" stroke-width="5" stroke-linecap="butt"/>
<line x1="746.7" y1="1128.0" x2="763.7" y2="1128.0" stroke="#000" stroke-width="5" stroke-linecap="butt"/>
<line x1="1178" y1="1128.0" x2="1161.0" y2="1128.0" stroke="#000" stroke-width="5" stroke-linecap="butt"/>
<text x="727.4" y="1139.0" font-size="37" text-anchor="end">20</text>
<line x1="746.7" y1="1084.0" x2="756.7" y2="1084.0" stroke="#000" stroke-width="5" stroke-linecap="butt"/>
<line x1="1178" y1="1084.0" x2="1168.0" y2="1084.0" stroke="#000" stroke-width="5" stroke-linecap="butt"/>
<line x1="746.7" y1="1040.0" x2="763.7" y2="1040.0" stroke="#000" stroke-width="5" stroke-linecap="butt"/>
<line x1="1178" y1="1040.0" x2="1161.0" y2="1040.0" stroke="#000" stroke-width="5" stroke-linecap="butt"/>
<text x="727.4" y="1051.0" font-size="37" text-anchor="end">30</text>
<line x1="746.7" y1="996.0" x2="756.7" y2="996.0" stroke="#000" stroke-width="5" stroke-linecap="butt"/>
<line x1="1178" y1="996.0" x2="1168.0" y2="996.0" stroke="#000" stroke-width="5" stroke-linecap="butt"/>
<line x1="746.7" y1="952.0" x2="763.7" y2="952.0" stroke="#000" stroke-width="5" stroke-linecap="butt"/>
<line x1="1178" y1="952.0" x2="1161.0" y2="952.0" stroke="#000" stroke-width="5" stroke-linecap="butt"/>
<text x="727.4" y="963.0" font-size="37" text-anchor="end">40</text>
<line x1="746.7" y1="908.0" x2="756.7" y2="908.0" stroke="#000" stroke-width="5" stroke-linecap="butt"/>
<line x1="1178" y1="908.0" x2="1168.0" y2="908.0" stroke="#000" stroke-width="5" stroke-linecap="butt"/>
<line x1="746.7" y1="864.0" x2="763.7" y2="864.0" stroke="#000" stroke-width="5" stroke-linecap="butt"/>
<line x1="1178" y1="864.0" x2="1161.0" y2="864.0" stroke="#000" stroke-width="5" stroke-linecap="butt"/>
<text x="727.4" y="875.0" font-size="37" text-anchor="end">50</text>
<line x1="746.7" y1="820.0" x2="756.7" y2="820.0" stroke="#000" stroke-width="5" stroke-linecap="butt"/>
<line x1="1178" y1="820.0" x2="1168.0" y2="820.0" stroke="#000" stroke-width="5" stroke-linecap="butt"/>
<line x1="746.7" y1="776.0" x2="763.7" y2="776.0" stroke="#000" stroke-width="5" stroke-linecap="butt"/>
<line x1="1178" y1="776.0" x2="1161.0" y2="776.0" stroke="#000" stroke-width="5" stroke-linecap="butt"/>
<text x="727.4" y="787.0" font-size="37" text-anchor="end">60</text>
<line x1="818.5" y1="776" x2="818.5" y2="792.0" stroke="#000" stroke-width="5" stroke-linecap="butt"/>
<line x1="818.5" y1="1304" x2="818.5" y2="1288.0" stroke="#000" stroke-width="5" stroke-linecap="butt"/>
<line x1="962" y1="776" x2="962" y2="792.0" stroke="#000" stroke-width="5" stroke-linecap="butt"/>
<line x1="962" y1="1304" x2="962" y2="1288.0" stroke="#000" stroke-width="5" stroke-linecap="butt"/>
<line x1="1106" y1="776" x2="1106" y2="792.0" stroke="#000" stroke-width="5" stroke-linecap="butt"/>
<line x1="1106" y1="1304" x2="1106" y2="1288.0" stroke="#000" stroke-width="5" stroke-linecap="butt"/>
<rect x="746.7" y="776" width="431.29999999999995" height="528" fill="none" stroke="#000" stroke-width="6"/>
<text x="818.5" y="1351" font-size="37.5" font-weight="bold" text-anchor="middle" textLength="98" lengthAdjust="spacingAndGlyphs">BM10</text>
<text x="962" y="1351" font-size="37.5" font-weight="bold" text-anchor="middle" textLength="98" lengthAdjust="spacingAndGlyphs">BM03</text>
<text x="1106" y="1351" font-size="37.5" font-weight="bold" text-anchor="middle" textLength="95" lengthAdjust="spacingAndGlyphs">BM01</text>
<text x="1126" y="827" font-size="42" text-anchor="start" font-weight="bold" >c)</text>
<text transform="translate(658.8,1112.5) rotate(-90)" font-size="39" font-family="'Liberation Serif', serif" font-style="italic">φ</text>
<text transform="translate(671.4,1087.5) rotate(-90)" font-size="33" font-weight="bold" textLength="47" lengthAdjust="spacingAndGlyphs">ISE</text>
<text transform="translate(659.5,1029.5) rotate(-90)" font-size="44" font-weight="bold" textLength="61" lengthAdjust="spacingAndGlyphs">/ %</text>
<rect x="815.75" y="1375.25" width="100.20000000000005" height="49.0" fill="#f2ca6a" stroke="#000" stroke-width="5.5"/>
<text x="951.7" y="1407" font-size="44" text-anchor="start" font-weight="normal" >segmented</text>
<line x1="826" y1="1456.7" x2="905.5" y2="1456.7" stroke="#000" stroke-width="6.5" stroke-linecap="round"/>
<text x="951.7" y="1469.5" font-size="44" text-anchor="start" font-weight="normal" >geometric</text>
<rect x="1409.5" y="1088.7056" width="70" height="216.7944" fill="#414141" stroke="#000" stroke-width="6" stroke-linejoin="round"/>
<rect x="1552.7" y="1152.902" width="70" height="152.59799999999996" fill="#414141" stroke="#000" stroke-width="6" stroke-linejoin="round"/>
<rect x="1696.5" y="1180.2644" width="70" height="125.23559999999998" fill="#414141" stroke="#000" stroke-width="6" stroke-linejoin="round"/>
<line x1="1406.5" y1="871.9112" x2="1482.5" y2="871.9112" stroke="#000" stroke-width="6.5" stroke-linecap="round"/>
<line x1="1549.7" y1="964.5224000000001" x2="1625.7" y2="964.5224000000001" stroke="#000" stroke-width="6.5" stroke-linecap="round"/>
<line x1="1693.5" y1="1067.6576" x2="1769.5" y2="1067.6576" stroke="#000" stroke-width="6.5" stroke-linecap="round"/>
<line x1="1372" y1="1305.5" x2="1389.0" y2="1305.5" stroke="#000" stroke-width="5" stroke-linecap="butt"/>
<line x1="1803.5" y1="1305.5" x2="1786.5" y2="1305.5" stroke="#000" stroke-width="5" stroke-linecap="butt"/>
<text x="1352.3" y="1316.5" font-size="37" text-anchor="end">0</text>
<line x1="1372" y1="1284.452" x2="1382.0" y2="1284.452" stroke="#000" stroke-width="5" stroke-linecap="butt"/>
<line x1="1803.5" y1="1284.452" x2="1793.5" y2="1284.452" stroke="#000" stroke-width="5" stroke-linecap="butt"/>
<line x1="1372" y1="1263.404" x2="1382.0" y2="1263.404" stroke="#000" stroke-width="5" stroke-linecap="butt"/>
<line x1="1803.5" y1="1263.404" x2="1793.5" y2="1263.404" stroke="#000" stroke-width="5" stroke-linecap="butt"/>
<line x1="1372" y1="1242.356" x2="1382.0" y2="1242.356" stroke="#000" stroke-width="5" stroke-linecap="butt"/>
<line x1="1803.5" y1="1242.356" x2="1793.5" y2="1242.356" stroke="#000" stroke-width="5" stroke-linecap="butt"/>
<line x1="1372" y1="1221.308" x2="1382.0" y2="1221.308" stroke="#000" stroke-width="5" stroke-linecap="butt"/>
<line x1="1803.5" y1="1221.308" x2="1793.5" y2="1221.308" stroke="#000" stroke-width="5" stroke-linecap="butt"/>
<line x1="1372" y1="1200.26" x2="1389.0" y2="1200.26" stroke="#000" stroke-width="5" stroke-linecap="butt"/>
<line x1="1803.5" y1="1200.26" x2="1786.5" y2="1200.26" stroke="#000" stroke-width="5" stroke-linecap="butt"/>
<text x="1352.3" y="1211.26" font-size="37" text-anchor="end">5</text>
<line x1="1372" y1="1179.212" x2="1382.0" y2="1179.212" stroke="#000" stroke-width="5" stroke-linecap="butt"/>
<line x1="1803.5" y1="1179.212" x2="1793.5" y2="1179.212" stroke="#000" stroke-width="5" stroke-linecap="butt"/>
<line x1="1372" y1="1158.164" x2="1382.0" y2="1158.164" stroke="#000" stroke-width="5" stroke-linecap="butt"/>
<line x1="1803.5" y1="1158.164" x2="1793.5" y2="1158.164" stroke="#000" stroke-width="5" stroke-linecap="butt"/>
<line x1="1372" y1="1137.116" x2="1382.0" y2="1137.116" stroke="#000" stroke-width="5" stroke-linecap="butt"/>
<line x1="1803.5" y1="1137.116" x2="1793.5" y2="1137.116" stroke="#000" stroke-width="5" stroke-linecap="butt"/>
<line x1="1372" y1="1116.068" x2="1382.0" y2="1116.068" stroke="#000" stroke-width="5" stroke-linecap="butt"/>
<line x1="1803.5" y1="1116.068" x2="1793.5" y2="1116.068" stroke="#000" stroke-width="5" stroke-linecap="butt"/>
<line x1="1372" y1="1095.02" x2="1389.0" y2="1095.02" stroke="#000" stroke-width="5" stroke-linecap="butt"/>
<line x1="1803.5" y1="1095.02" x2="1786.5" y2="1095.02" stroke="#000" stroke-width="5" stroke-linecap="butt"/>
<text x="1352.3" y="1106.02" font-size="37" text-anchor="end">10</text>
<line x1="1372" y1="1073.972" x2="1382.0" y2="1073.972" stroke="#000" stroke-width="5" stroke-linecap="butt"/>
<line x1="1803.5" y1="1073.972" x2="1793.5" y2="1073.972" stroke="#000" stroke-width="5" stroke-linecap="butt"/>
<line x1="1372" y1="1052.924" x2="1382.0" y2="1052.924" stroke="#000" stroke-width="5" stroke-linecap="butt"/>
<line x1="1803.5" y1="1052.924" x2="1793.5" y2="1052.924" stroke="#000" stroke-width="5" stroke-linecap="butt"/>
<line x1="1372" y1="1031.876" x2="1382.0" y2="1031.876" stroke="#000" stroke-width="5" stroke-linecap="butt"/>
<line x1="1803.5" y1="1031.876" x2="1793.5" y2="1031.876" stroke="#000" stroke-width="5" stroke-linecap="butt"/>
<line x1="1372" y1="1010.828" x2="1382.0" y2="1010.828" stroke="#000" stroke-width="5" stroke-linecap="butt"/>
<line x1="1803.5" y1="1010.828" x2="1793.5" y2="1010.828" stroke="#000" stroke-width="5" stroke-linecap="butt"/>
<line x1="1372" y1="989.78" x2="1389.0" y2="989.78" stroke="#000" stroke-width="5" stroke-linecap="butt"/>
<line x1="1803.5" y1="989.78" x2="1786.5" y2="989.78" stroke="#000" stroke-width="5" stroke-linecap="butt"/>
<text x="1352.3" y="1000.78" font-size="37" text-anchor="end">15</text>
<line x1="1372" y1="968.732" x2="1382.0" y2="968.732" stroke="#000" stroke-width="5" stroke-linecap="butt"/>
<line x1="1803.5" y1="968.732" x2="1793.5" y2="968.732" stroke="#000" stroke-width="5" stroke-linecap="butt"/>
<line x1="1372" y1="947.684" x2="1382.0" y2="947.684" stroke="#000" stroke-width="5" stroke-linecap="butt"/>
<line x1="1803.5" y1="947.684" x2="1793.5" y2="947.684" stroke="#000" stroke-width="5" stroke-linecap="butt"/>
<line x1="1372" y1="926.636" x2="1382.0" y2="926.636" stroke="#000" stroke-width="5" stroke-linecap="butt"/>
<line x1="1803.5" y1="926.636" x2="1793.5" y2="926.636" stroke="#000" stroke-width="5" stroke-linecap="butt"/>
<line x1="1372" y1="905.588" x2="1382.0" y2="905.588" stroke="#000" stroke-width="5" stroke-linecap="butt"/>
<line x1="1803.5" y1="905.588" x2="1793.5" y2="905.588" stroke="#000" stroke-width="5" stroke-linecap="butt"/>
<line x1="1372" y1="884.54" x2="1389.0" y2="884.54" stroke="#000" stroke-width="5" stroke-linecap="butt"/>
<line x1="1803.5" y1="884.54" x2="1786.5" y2="884.54" stroke="#000" stroke-width="5" stroke-linecap="butt"/>
<text x="1352.3" y="895.54" font-size="37" text-anchor="end">20</text>
<line x1="1372" y1="863.492" x2="1382.0" y2="863.492" stroke="#000" stroke-width="5" stroke-linecap="butt"/>
<line x1="1803.5" y1="863.492" x2="1793.5" y2="863.492" stroke="#000" stroke-width="5" stroke-linecap="butt"/>
<line x1="1372" y1="842.444" x2="1382.0" y2="842.444" stroke="#000" stroke-width="5" stroke-linecap="butt"/>
<line x1="1803.5" y1="842.444" x2="1793.5" y2="842.444" stroke="#000" stroke-width="5" stroke-linecap="butt"/>
<line x1="1372" y1="821.396" x2="1382.0" y2="821.396" stroke="#000" stroke-width="5" stroke-linecap="butt"/>
<line x1="1803.5" y1="821.396" x2="1793.5" y2="821.396" stroke="#000" stroke-width="5" stroke-linecap="butt"/>
<line x1="1372" y1="800.348" x2="1382.0" y2="800.348" stroke="#000" stroke-width="5" stroke-linecap="butt"/>
<line x1="1803.5" y1="800.348" x2="1793.5" y2="800.348" stroke="#000" stroke-width="5" stroke-linecap="butt"/>
<line x1="1372" y1="779.3" x2="1389.0" y2="779.3" stroke="#000" stroke-width="5" stroke-linecap="butt"/>
<line x1="1803.5" y1="779.3" x2="1786.5" y2="779.3" stroke="#000" stroke-width="5" stroke-linecap="butt"/>
<text x="1352.3" y="790.3" font-size="37" text-anchor="end">25</text>
<line x1="1444.5" y1="779.3" x2="1444.5" y2="795.3" stroke="#000" stroke-width="5" stroke-linecap="butt"/>
<line x1="1444.5" y1="1305.5" x2="1444.5" y2="1289.5" stroke="#000" stroke-width="5" stroke-linecap="butt"/>
<line x1="1587.7" y1="779.3" x2="1587.7" y2="795.3" stroke="#000" stroke-width="5" stroke-linecap="butt"/>
<line x1="1587.7" y1="1305.5" x2="1587.7" y2="1289.5" stroke="#000" stroke-width="5" stroke-linecap="butt"/>
<line x1="1731.5" y1="779.3" x2="1731.5" y2="795.3" stroke="#000" stroke-width="5" stroke-linecap="butt"/>
<line x1="1731.5" y1="1305.5" x2="1731.5" y2="1289.5" stroke="#000" stroke-width="5" stroke-linecap="butt"/>
<rect x="1372" y="779.3" width="431.5" height="526.2" fill="none" stroke="#000" stroke-width="6"/>
<text x="1444.5" y="1352.6" font-size="37.5" font-weight="bold" text-anchor="middle" textLength="98" lengthAdjust="spacingAndGlyphs">BM10</text>
<text x="1587.7" y="1352.6" font-size="37.5" font-weight="bold" text-anchor="middle" textLength="98" lengthAdjust="spacingAndGlyphs">BM03</text>
<text x="1731.5" y="1352.6" font-size="37.5" font-weight="bold" text-anchor="middle" textLength="95" lengthAdjust="spacingAndGlyphs">BM01</text>
<text x="1733" y="830" font-size="42" text-anchor="start" font-weight="bold" >d)</text>
<text transform="translate(1283,1123) rotate(-90)" font-size="39" font-family="'Liberation Serif', serif" font-style="italic">φ</text>
<text transform="translate(1295.5,1097.5) rotate(-90)" font-size="33" font-weight="bold" textLength="62" lengthAdjust="spacingAndGlyphs">pore</text>
<text transform="translate(1283.8,1022.5) rotate(-90)" font-size="44" font-weight="bold" textLength="61" lengthAdjust="spacingAndGlyphs">/ %</text>
<rect x="1460.75" y="1377.75" width="100.29999999999995" height="48.09999999999991" fill="#414141" stroke="#000" stroke-width="5.5"/>
<text x="1600" y="1412" font-size="44" text-anchor="start" font-weight="normal" >segmented</text>
<line x1="1471" y1="1458.3" x2="1550.6" y2="1458.3" stroke="#000" stroke-width="6.5" stroke-linecap="round"/>
<text x="1600" y="1470.5" font-size="44" text-anchor="start" font-weight="normal" >geometric</text>
</svg></body></html>
